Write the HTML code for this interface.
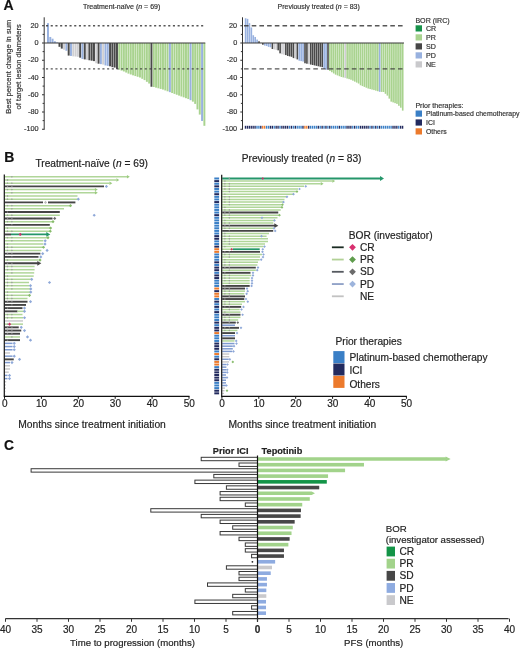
<!DOCTYPE html>
<html><head><meta charset="utf-8"><title>Figure</title>
<style>html,body{margin:0;padding:0;background:#fff;} svg{display:block;} text{font-family:"Liberation Sans", Arial, sans-serif;paint-order:stroke;stroke-width:0.18px;}</style>
</head><body>
<svg width="520" height="649" viewBox="0 0 520 649">
<rect width="520" height="649" fill="#fff"/>
<g id="A">
<text x="3.50" y="10.20" font-size="14" text-anchor="start" font-weight="bold" fill="#111" stroke="#111" >A</text>
<text x="82.90" y="9.30" font-size="7" text-anchor="start" font-weight="normal" fill="#333" stroke="#333" >Treatment-naïve (<tspan font-style="italic">n</tspan> = 69)</text>
<text x="277.50" y="9.30" font-size="7" text-anchor="start" font-weight="normal" fill="#333" stroke="#333" >Previously treated (<tspan font-style="italic">n</tspan> = 83)</text>
<text transform="translate(10.9,66.8) rotate(-90)" font-size="7.6" text-anchor="middle" fill="#333" stroke="#333">Best percent change in sum</text>
<text transform="translate(20.7,66.8) rotate(-90)" font-size="7.6" text-anchor="middle" fill="#333" stroke="#333">of target lesion diameters</text>
<rect x="47.00" y="23.16" width="1.95" height="19.84" fill="#98b1df" />
<rect x="49.30" y="36.96" width="1.95" height="6.04" fill="#98b1df" />
<rect x="51.60" y="38.69" width="1.95" height="4.31" fill="#98b1df" />
<rect x="53.90" y="41.27" width="1.95" height="1.73" fill="#98b1df" />
<rect x="56.20" y="42.48" width="1.95" height="0.52" fill="#98b1df" />
<rect x="58.50" y="43.00" width="1.95" height="3.80" fill="#4a4a4a" />
<rect x="60.80" y="43.00" width="1.95" height="5.61" fill="#4a4a4a" />
<rect x="63.10" y="43.00" width="1.95" height="6.73" fill="#cfcfd2" />
<rect x="65.40" y="43.00" width="1.95" height="7.76" fill="#98b1df" />
<rect x="67.70" y="43.00" width="1.95" height="12.59" fill="#4a4a4a" />
<rect x="70.00" y="43.00" width="1.95" height="12.94" fill="#98b1df" />
<rect x="72.30" y="43.00" width="1.95" height="13.37" fill="#cfcfd2" />
<rect x="74.60" y="43.00" width="1.95" height="13.54" fill="#cfcfd2" />
<rect x="76.90" y="43.00" width="1.95" height="13.80" fill="#cfcfd2" />
<rect x="79.20" y="43.00" width="1.95" height="14.66" fill="#4a4a4a" />
<rect x="81.50" y="43.00" width="1.95" height="15.96" fill="#98b1df" />
<rect x="83.80" y="43.00" width="1.95" height="16.39" fill="#4a4a4a" />
<rect x="86.10" y="43.00" width="1.95" height="16.82" fill="#cfcfd2" />
<rect x="88.40" y="43.00" width="1.95" height="17.25" fill="#4a4a4a" />
<rect x="90.70" y="43.00" width="1.95" height="17.68" fill="#4a4a4a" />
<rect x="93.00" y="43.00" width="1.95" height="18.11" fill="#4a4a4a" />
<rect x="95.30" y="43.00" width="1.95" height="20.27" fill="#cfcfd2" />
<rect x="97.60" y="43.00" width="1.95" height="20.70" fill="#4a4a4a" />
<rect x="99.90" y="43.00" width="1.95" height="21.13" fill="#98b1df" />
<rect x="102.20" y="43.00" width="1.95" height="21.56" fill="#cfcfd2" />
<rect x="104.50" y="43.00" width="1.95" height="22.42" fill="#98b1df" />
<rect x="106.80" y="43.00" width="1.95" height="22.86" fill="#98b1df" />
<rect x="109.10" y="43.00" width="1.95" height="23.29" fill="#4a4a4a" />
<rect x="111.40" y="43.00" width="1.95" height="24.15" fill="#4a4a4a" />
<rect x="113.70" y="43.00" width="1.95" height="24.58" fill="#4a4a4a" />
<rect x="116.00" y="43.00" width="1.95" height="25.88" fill="#4a4a4a" />
<rect x="118.30" y="43.00" width="1.95" height="26.74" fill="#a9d38f" />
<rect x="120.60" y="43.00" width="1.95" height="27.60" fill="#a9d38f" />
<rect x="122.90" y="43.00" width="1.95" height="28.46" fill="#a9d38f" />
<rect x="125.20" y="43.00" width="1.95" height="29.54" fill="#a9d38f" />
<rect x="127.50" y="43.00" width="1.95" height="30.62" fill="#a9d38f" />
<rect x="129.80" y="43.00" width="1.95" height="31.48" fill="#a9d38f" />
<rect x="132.10" y="43.00" width="1.95" height="32.34" fill="#a9d38f" />
<rect x="134.40" y="43.00" width="1.95" height="33.06" fill="#a9d38f" />
<rect x="136.70" y="43.00" width="1.95" height="33.78" fill="#a9d38f" />
<rect x="139.00" y="43.00" width="1.95" height="34.50" fill="#a9d38f" />
<rect x="141.30" y="43.00" width="1.95" height="35.79" fill="#a9d38f" />
<rect x="143.60" y="43.00" width="1.95" height="37.09" fill="#a9d38f" />
<rect x="145.90" y="43.00" width="1.95" height="38.81" fill="#a9d38f" />
<rect x="148.20" y="43.00" width="1.95" height="40.54" fill="#a9d38f" />
<rect x="150.50" y="43.00" width="1.95" height="43.73" fill="#4a4a4a" />
<rect x="152.80" y="43.00" width="1.95" height="43.99" fill="#a9d38f" />
<rect x="155.10" y="43.00" width="1.95" height="44.63" fill="#a9d38f" />
<rect x="157.40" y="43.00" width="1.95" height="45.28" fill="#a9d38f" />
<rect x="159.70" y="43.00" width="1.95" height="45.93" fill="#a9d38f" />
<rect x="162.00" y="43.00" width="1.95" height="46.58" fill="#a9d38f" />
<rect x="164.30" y="43.00" width="1.95" height="47.44" fill="#a9d38f" />
<rect x="166.60" y="43.00" width="1.95" height="48.30" fill="#a9d38f" />
<rect x="168.90" y="43.00" width="1.95" height="49.16" fill="#98b1df" />
<rect x="171.20" y="43.00" width="1.95" height="50.03" fill="#a9d38f" />
<rect x="173.50" y="43.00" width="1.95" height="50.89" fill="#a9d38f" />
<rect x="175.80" y="43.00" width="1.95" height="51.75" fill="#a9d38f" />
<rect x="178.10" y="43.00" width="1.95" height="52.61" fill="#a9d38f" />
<rect x="180.40" y="43.00" width="1.95" height="53.47" fill="#a9d38f" />
<rect x="182.70" y="43.00" width="1.95" height="54.34" fill="#a9d38f" />
<rect x="185.00" y="43.00" width="1.95" height="55.20" fill="#a9d38f" />
<rect x="187.30" y="43.00" width="1.95" height="56.06" fill="#a9d38f" />
<rect x="189.60" y="43.00" width="1.95" height="57.18" fill="#98b1df" />
<rect x="191.90" y="43.00" width="1.95" height="58.65" fill="#a9d38f" />
<rect x="194.20" y="43.00" width="1.95" height="60.89" fill="#a9d38f" />
<rect x="196.50" y="43.00" width="1.95" height="66.41" fill="#a9d38f" />
<rect x="198.80" y="43.00" width="1.95" height="71.59" fill="#a9d38f" />
<rect x="201.10" y="43.00" width="1.95" height="77.97" fill="#98b1df" />
<rect x="203.40" y="43.00" width="1.95" height="82.80" fill="#a9d38f" />
<rect x="244.80" y="18.25" width="1.62" height="24.75" fill="#98b1df" />
<rect x="246.72" y="18.85" width="1.62" height="24.15" fill="#98b1df" />
<rect x="248.63" y="23.16" width="1.62" height="19.84" fill="#98b1df" />
<rect x="250.55" y="27.48" width="1.62" height="15.52" fill="#98b1df" />
<rect x="252.46" y="35.24" width="1.62" height="7.76" fill="#98b1df" />
<rect x="254.38" y="36.96" width="1.62" height="6.04" fill="#98b1df" />
<rect x="256.30" y="39.55" width="1.62" height="3.45" fill="#98b1df" />
<rect x="258.21" y="41.27" width="1.62" height="1.73" fill="#4a4a4a" />
<rect x="260.13" y="42.57" width="1.62" height="0.43" fill="#cfcfd2" />
<rect x="262.04" y="43.00" width="1.62" height="1.73" fill="#4a4a4a" />
<rect x="263.96" y="43.00" width="1.62" height="2.59" fill="#98b1df" />
<rect x="265.88" y="43.00" width="1.62" height="3.02" fill="#98b1df" />
<rect x="267.79" y="43.00" width="1.62" height="3.88" fill="#98b1df" />
<rect x="269.71" y="43.00" width="1.62" height="4.31" fill="#98b1df" />
<rect x="271.62" y="43.00" width="1.62" height="6.04" fill="#4a4a4a" />
<rect x="273.54" y="43.00" width="1.62" height="6.47" fill="#cfcfd2" />
<rect x="275.46" y="43.00" width="1.62" height="6.90" fill="#cfcfd2" />
<rect x="277.37" y="43.00" width="1.62" height="7.33" fill="#4a4a4a" />
<rect x="279.29" y="43.00" width="1.62" height="10.35" fill="#4a4a4a" />
<rect x="281.20" y="43.00" width="1.62" height="11.21" fill="#cfcfd2" />
<rect x="283.12" y="43.00" width="1.62" height="11.64" fill="#cfcfd2" />
<rect x="285.04" y="43.00" width="1.62" height="12.08" fill="#4a4a4a" />
<rect x="286.95" y="43.00" width="1.62" height="12.94" fill="#4a4a4a" />
<rect x="288.87" y="43.00" width="1.62" height="13.37" fill="#4a4a4a" />
<rect x="290.78" y="43.00" width="1.62" height="13.80" fill="#4a4a4a" />
<rect x="292.70" y="43.00" width="1.62" height="15.09" fill="#4a4a4a" />
<rect x="294.62" y="43.00" width="1.62" height="15.52" fill="#cfcfd2" />
<rect x="296.53" y="43.00" width="1.62" height="16.39" fill="#4a4a4a" />
<rect x="298.45" y="43.00" width="1.62" height="17.68" fill="#98b1df" />
<rect x="300.36" y="43.00" width="1.62" height="18.11" fill="#98b1df" />
<rect x="302.28" y="43.00" width="1.62" height="18.54" fill="#98b1df" />
<rect x="304.20" y="43.00" width="1.62" height="20.27" fill="#4a4a4a" />
<rect x="306.11" y="43.00" width="1.62" height="20.70" fill="#4a4a4a" />
<rect x="308.03" y="43.00" width="1.62" height="21.13" fill="#cfcfd2" />
<rect x="309.94" y="43.00" width="1.62" height="21.56" fill="#4a4a4a" />
<rect x="311.86" y="43.00" width="1.62" height="21.99" fill="#4a4a4a" />
<rect x="313.78" y="43.00" width="1.62" height="22.42" fill="#4a4a4a" />
<rect x="315.69" y="43.00" width="1.62" height="22.86" fill="#4a4a4a" />
<rect x="317.61" y="43.00" width="1.62" height="23.29" fill="#4a4a4a" />
<rect x="319.52" y="43.00" width="1.62" height="23.72" fill="#4a4a4a" />
<rect x="321.44" y="43.00" width="1.62" height="24.15" fill="#4a4a4a" />
<rect x="323.36" y="43.00" width="1.62" height="25.88" fill="#98b1df" />
<rect x="325.27" y="43.00" width="1.62" height="26.74" fill="#98b1df" />
<rect x="327.19" y="43.00" width="1.62" height="26.74" fill="#4a4a4a" />
<rect x="329.10" y="43.00" width="1.62" height="28.03" fill="#a9d38f" />
<rect x="331.02" y="43.00" width="1.62" height="29.24" fill="#a9d38f" />
<rect x="332.94" y="43.00" width="1.62" height="30.45" fill="#a9d38f" />
<rect x="334.85" y="43.00" width="1.62" height="31.65" fill="#a9d38f" />
<rect x="336.77" y="43.00" width="1.62" height="32.43" fill="#a9d38f" />
<rect x="338.68" y="43.00" width="1.62" height="33.21" fill="#a9d38f" />
<rect x="340.60" y="43.00" width="1.62" height="33.98" fill="#a9d38f" />
<rect x="342.52" y="43.00" width="1.62" height="34.46" fill="#a9d38f" />
<rect x="344.43" y="43.00" width="1.62" height="34.93" fill="#cfcfd2" />
<rect x="346.35" y="43.00" width="1.62" height="35.53" fill="#a9d38f" />
<rect x="348.26" y="43.00" width="1.62" height="36.14" fill="#a9d38f" />
<rect x="350.18" y="43.00" width="1.62" height="36.74" fill="#a9d38f" />
<rect x="352.10" y="43.00" width="1.62" height="37.69" fill="#a9d38f" />
<rect x="354.01" y="43.00" width="1.62" height="38.64" fill="#a9d38f" />
<rect x="355.93" y="43.00" width="1.62" height="39.59" fill="#a9d38f" />
<rect x="357.84" y="43.00" width="1.62" height="40.54" fill="#a9d38f" />
<rect x="359.76" y="43.00" width="1.62" height="42.26" fill="#a9d38f" />
<rect x="361.68" y="43.00" width="1.62" height="43.08" fill="#a9d38f" />
<rect x="363.59" y="43.00" width="1.62" height="43.90" fill="#a9d38f" />
<rect x="365.51" y="43.00" width="1.62" height="44.72" fill="#a9d38f" />
<rect x="367.42" y="43.00" width="1.62" height="45.54" fill="#a9d38f" />
<rect x="369.34" y="43.00" width="1.62" height="46.06" fill="#a9d38f" />
<rect x="371.26" y="43.00" width="1.62" height="46.58" fill="#a9d38f" />
<rect x="373.17" y="43.00" width="1.62" height="47.09" fill="#a9d38f" />
<rect x="375.09" y="43.00" width="1.62" height="47.67" fill="#a9d38f" />
<rect x="377.00" y="43.00" width="1.62" height="48.24" fill="#a9d38f" />
<rect x="378.92" y="43.00" width="1.62" height="48.82" fill="#98b1df" />
<rect x="380.84" y="43.00" width="1.62" height="48.90" fill="#a9d38f" />
<rect x="382.75" y="43.00" width="1.62" height="48.99" fill="#a9d38f" />
<rect x="384.67" y="43.00" width="1.62" height="50.80" fill="#a9d38f" />
<rect x="386.58" y="43.00" width="1.62" height="52.61" fill="#a9d38f" />
<rect x="388.50" y="43.00" width="1.62" height="55.63" fill="#a9d38f" />
<rect x="390.42" y="43.00" width="1.62" height="58.65" fill="#a9d38f" />
<rect x="392.33" y="43.00" width="1.62" height="59.40" fill="#a9d38f" />
<rect x="394.25" y="43.00" width="1.62" height="60.15" fill="#a9d38f" />
<rect x="396.16" y="43.00" width="1.62" height="60.89" fill="#a9d38f" />
<rect x="398.08" y="43.00" width="1.62" height="62.79" fill="#a9d38f" />
<rect x="400.00" y="43.00" width="1.62" height="64.69" fill="#a9d38f" />
<rect x="401.91" y="43.00" width="1.62" height="67.62" fill="#a9d38f" />
<line x1="44.20" y1="17.30" x2="44.20" y2="129.75" stroke="#333" stroke-width="1" />
<line x1="42.00" y1="129.25" x2="44.20" y2="129.25" stroke="#333" stroke-width="1" />
<text x="38.60" y="131.45" font-size="7.3" text-anchor="end" font-weight="normal" fill="#333" stroke="#333" >-100</text>
<line x1="42.60" y1="120.62" x2="44.20" y2="120.62" stroke="#333" stroke-width="1" />
<line x1="42.00" y1="112.00" x2="44.20" y2="112.00" stroke="#333" stroke-width="1" />
<text x="38.60" y="114.20" font-size="7.3" text-anchor="end" font-weight="normal" fill="#333" stroke="#333" >-80</text>
<line x1="42.60" y1="103.38" x2="44.20" y2="103.38" stroke="#333" stroke-width="1" />
<line x1="42.00" y1="94.75" x2="44.20" y2="94.75" stroke="#333" stroke-width="1" />
<text x="38.60" y="96.95" font-size="7.3" text-anchor="end" font-weight="normal" fill="#333" stroke="#333" >-60</text>
<line x1="42.60" y1="86.12" x2="44.20" y2="86.12" stroke="#333" stroke-width="1" />
<line x1="42.00" y1="77.50" x2="44.20" y2="77.50" stroke="#333" stroke-width="1" />
<text x="38.60" y="79.70" font-size="7.3" text-anchor="end" font-weight="normal" fill="#333" stroke="#333" >-40</text>
<line x1="42.60" y1="68.88" x2="44.20" y2="68.88" stroke="#333" stroke-width="1" />
<line x1="42.00" y1="60.25" x2="44.20" y2="60.25" stroke="#333" stroke-width="1" />
<text x="38.60" y="62.45" font-size="7.3" text-anchor="end" font-weight="normal" fill="#333" stroke="#333" >-20</text>
<line x1="42.60" y1="51.62" x2="44.20" y2="51.62" stroke="#333" stroke-width="1" />
<line x1="42.00" y1="43.00" x2="44.20" y2="43.00" stroke="#333" stroke-width="1" />
<text x="38.60" y="45.20" font-size="7.3" text-anchor="end" font-weight="normal" fill="#333" stroke="#333" >0</text>
<line x1="42.60" y1="34.38" x2="44.20" y2="34.38" stroke="#333" stroke-width="1" />
<line x1="42.00" y1="25.75" x2="44.20" y2="25.75" stroke="#333" stroke-width="1" />
<text x="38.60" y="27.95" font-size="7.3" text-anchor="end" font-weight="normal" fill="#333" stroke="#333" >20</text>
<line x1="242.50" y1="17.30" x2="242.50" y2="129.75" stroke="#333" stroke-width="1" />
<line x1="240.30" y1="129.25" x2="242.50" y2="129.25" stroke="#333" stroke-width="1" />
<text x="237.20" y="131.45" font-size="7.3" text-anchor="end" font-weight="normal" fill="#333" stroke="#333" >-100</text>
<line x1="240.90" y1="120.62" x2="242.50" y2="120.62" stroke="#333" stroke-width="1" />
<line x1="240.30" y1="112.00" x2="242.50" y2="112.00" stroke="#333" stroke-width="1" />
<text x="237.20" y="114.20" font-size="7.3" text-anchor="end" font-weight="normal" fill="#333" stroke="#333" >-80</text>
<line x1="240.90" y1="103.38" x2="242.50" y2="103.38" stroke="#333" stroke-width="1" />
<line x1="240.30" y1="94.75" x2="242.50" y2="94.75" stroke="#333" stroke-width="1" />
<text x="237.20" y="96.95" font-size="7.3" text-anchor="end" font-weight="normal" fill="#333" stroke="#333" >-60</text>
<line x1="240.90" y1="86.12" x2="242.50" y2="86.12" stroke="#333" stroke-width="1" />
<line x1="240.30" y1="77.50" x2="242.50" y2="77.50" stroke="#333" stroke-width="1" />
<text x="237.20" y="79.70" font-size="7.3" text-anchor="end" font-weight="normal" fill="#333" stroke="#333" >-40</text>
<line x1="240.90" y1="68.88" x2="242.50" y2="68.88" stroke="#333" stroke-width="1" />
<line x1="240.30" y1="60.25" x2="242.50" y2="60.25" stroke="#333" stroke-width="1" />
<text x="237.20" y="62.45" font-size="7.3" text-anchor="end" font-weight="normal" fill="#333" stroke="#333" >-20</text>
<line x1="240.90" y1="51.62" x2="242.50" y2="51.62" stroke="#333" stroke-width="1" />
<line x1="240.30" y1="43.00" x2="242.50" y2="43.00" stroke="#333" stroke-width="1" />
<text x="237.20" y="45.20" font-size="7.3" text-anchor="end" font-weight="normal" fill="#333" stroke="#333" >0</text>
<line x1="240.90" y1="34.38" x2="242.50" y2="34.38" stroke="#333" stroke-width="1" />
<line x1="240.30" y1="25.75" x2="242.50" y2="25.75" stroke="#333" stroke-width="1" />
<text x="237.20" y="27.95" font-size="7.3" text-anchor="end" font-weight="normal" fill="#333" stroke="#333" >20</text>
<line x1="44.20" y1="43.00" x2="205.30" y2="43.00" stroke="#3a3a3a" stroke-width="1.2" />
<line x1="242.50" y1="43.00" x2="404.00" y2="43.00" stroke="#3a3a3a" stroke-width="1.2" />
<line x1="46.00" y1="25.75" x2="205.50" y2="25.75" stroke="#3a3a3a" stroke-width="1.35" stroke-dasharray="2.1 2.6" stroke-opacity="0.85"/>
<line x1="46.00" y1="68.88" x2="205.50" y2="68.88" stroke="#3a3a3a" stroke-width="1.35" stroke-dasharray="2.1 2.6" stroke-opacity="0.85"/>
<line x1="244.00" y1="25.75" x2="404.00" y2="25.75" stroke="#3a3a3a" stroke-width="1.35" stroke-dasharray="4.6 3.1" stroke-opacity="0.85"/>
<line x1="244.00" y1="68.88" x2="404.00" y2="68.88" stroke="#3a3a3a" stroke-width="1.35" stroke-dasharray="4.6 3.1" stroke-opacity="0.85"/>
<rect x="244.80" y="125.80" width="1.37" height="2.90" fill="#222a5e" />
<rect x="246.72" y="125.80" width="1.37" height="2.90" fill="#222a5e" />
<rect x="248.63" y="125.80" width="1.37" height="2.90" fill="#222a5e" />
<rect x="250.55" y="125.80" width="1.37" height="2.90" fill="#222a5e" />
<rect x="252.46" y="125.80" width="1.37" height="2.90" fill="#222a5e" />
<rect x="254.38" y="125.80" width="1.37" height="2.90" fill="#222a5e" />
<rect x="256.30" y="125.80" width="1.37" height="2.90" fill="#3a7fc6" />
<rect x="258.21" y="125.80" width="1.37" height="2.90" fill="#3a7fc6" />
<rect x="260.13" y="125.80" width="1.37" height="2.90" fill="#222a5e" />
<rect x="262.04" y="125.80" width="1.37" height="2.90" fill="#ec7a2c" />
<rect x="263.96" y="125.80" width="1.37" height="2.90" fill="#ec7a2c" />
<rect x="265.88" y="125.80" width="1.37" height="2.90" fill="#3a7fc6" />
<rect x="267.79" y="125.80" width="1.37" height="2.90" fill="#3a7fc6" />
<rect x="269.71" y="125.80" width="1.37" height="2.90" fill="#222a5e" />
<rect x="271.62" y="125.80" width="1.37" height="2.90" fill="#222a5e" />
<rect x="273.54" y="125.80" width="1.37" height="2.90" fill="#3a7fc6" />
<rect x="275.46" y="125.80" width="1.37" height="2.90" fill="#222a5e" />
<rect x="277.37" y="125.80" width="1.37" height="2.90" fill="#222a5e" />
<rect x="279.29" y="125.80" width="1.37" height="2.90" fill="#3a7fc6" />
<rect x="281.20" y="125.80" width="1.37" height="2.90" fill="#222a5e" />
<rect x="283.12" y="125.80" width="1.37" height="2.90" fill="#222a5e" />
<rect x="285.04" y="125.80" width="1.37" height="2.90" fill="#222a5e" />
<rect x="286.95" y="125.80" width="1.37" height="2.90" fill="#222a5e" />
<rect x="288.87" y="125.80" width="1.37" height="2.90" fill="#3a7fc6" />
<rect x="290.78" y="125.80" width="1.37" height="2.90" fill="#222a5e" />
<rect x="292.70" y="125.80" width="1.37" height="2.90" fill="#3a7fc6" />
<rect x="294.62" y="125.80" width="1.37" height="2.90" fill="#222a5e" />
<rect x="296.53" y="125.80" width="1.37" height="2.90" fill="#3a7fc6" />
<rect x="298.45" y="125.80" width="1.37" height="2.90" fill="#3a7fc6" />
<rect x="300.36" y="125.80" width="1.37" height="2.90" fill="#3a7fc6" />
<rect x="302.28" y="125.80" width="1.37" height="2.90" fill="#222a5e" />
<rect x="304.20" y="125.80" width="1.37" height="2.90" fill="#ec7a2c" />
<rect x="306.11" y="125.80" width="1.37" height="2.90" fill="#ec7a2c" />
<rect x="308.03" y="125.80" width="1.37" height="2.90" fill="#222a5e" />
<rect x="309.94" y="125.80" width="1.37" height="2.90" fill="#3a7fc6" />
<rect x="311.86" y="125.80" width="1.37" height="2.90" fill="#3a7fc6" />
<rect x="313.78" y="125.80" width="1.37" height="2.90" fill="#3a7fc6" />
<rect x="315.69" y="125.80" width="1.37" height="2.90" fill="#3a7fc6" />
<rect x="317.61" y="125.80" width="1.37" height="2.90" fill="#222a5e" />
<rect x="319.52" y="125.80" width="1.37" height="2.90" fill="#3a7fc6" />
<rect x="321.44" y="125.80" width="1.37" height="2.90" fill="#222a5e" />
<rect x="323.36" y="125.80" width="1.37" height="2.90" fill="#3a7fc6" />
<rect x="325.27" y="125.80" width="1.37" height="2.90" fill="#222a5e" />
<rect x="327.19" y="125.80" width="1.37" height="2.90" fill="#3a7fc6" />
<rect x="329.10" y="125.80" width="1.37" height="2.90" fill="#222a5e" />
<rect x="331.02" y="125.80" width="1.37" height="2.90" fill="#3a7fc6" />
<rect x="332.94" y="125.80" width="1.37" height="2.90" fill="#3a7fc6" />
<rect x="334.85" y="125.80" width="1.37" height="2.90" fill="#3a7fc6" />
<rect x="336.77" y="125.80" width="1.37" height="2.90" fill="#3a7fc6" />
<rect x="338.68" y="125.80" width="1.37" height="2.90" fill="#222a5e" />
<rect x="340.60" y="125.80" width="1.37" height="2.90" fill="#3a7fc6" />
<rect x="342.52" y="125.80" width="1.37" height="2.90" fill="#3a7fc6" />
<rect x="344.43" y="125.80" width="1.37" height="2.90" fill="#3a7fc6" />
<rect x="346.35" y="125.80" width="1.37" height="2.90" fill="#222a5e" />
<rect x="348.26" y="125.80" width="1.37" height="2.90" fill="#222a5e" />
<rect x="350.18" y="125.80" width="1.37" height="2.90" fill="#222a5e" />
<rect x="352.10" y="125.80" width="1.37" height="2.90" fill="#3a7fc6" />
<rect x="354.01" y="125.80" width="1.37" height="2.90" fill="#222a5e" />
<rect x="355.93" y="125.80" width="1.37" height="2.90" fill="#3a7fc6" />
<rect x="357.84" y="125.80" width="1.37" height="2.90" fill="#3a7fc6" />
<rect x="359.76" y="125.80" width="1.37" height="2.90" fill="#222a5e" />
<rect x="361.68" y="125.80" width="1.37" height="2.90" fill="#222a5e" />
<rect x="363.59" y="125.80" width="1.37" height="2.90" fill="#222a5e" />
<rect x="365.51" y="125.80" width="1.37" height="2.90" fill="#222a5e" />
<rect x="367.42" y="125.80" width="1.37" height="2.90" fill="#222a5e" />
<rect x="369.34" y="125.80" width="1.37" height="2.90" fill="#3a7fc6" />
<rect x="371.26" y="125.80" width="1.37" height="2.90" fill="#222a5e" />
<rect x="373.17" y="125.80" width="1.37" height="2.90" fill="#3a7fc6" />
<rect x="375.09" y="125.80" width="1.37" height="2.90" fill="#222a5e" />
<rect x="377.00" y="125.80" width="1.37" height="2.90" fill="#3a7fc6" />
<rect x="378.92" y="125.80" width="1.37" height="2.90" fill="#222a5e" />
<rect x="380.84" y="125.80" width="1.37" height="2.90" fill="#3a7fc6" />
<rect x="382.75" y="125.80" width="1.37" height="2.90" fill="#3a7fc6" />
<rect x="384.67" y="125.80" width="1.37" height="2.90" fill="#3a7fc6" />
<rect x="386.58" y="125.80" width="1.37" height="2.90" fill="#3a7fc6" />
<rect x="388.50" y="125.80" width="1.37" height="2.90" fill="#3a7fc6" />
<rect x="390.42" y="125.80" width="1.37" height="2.90" fill="#3a7fc6" />
<rect x="392.33" y="125.80" width="1.37" height="2.90" fill="#222a5e" />
<rect x="394.25" y="125.80" width="1.37" height="2.90" fill="#222a5e" />
<rect x="396.16" y="125.80" width="1.37" height="2.90" fill="#222a5e" />
<rect x="398.08" y="125.80" width="1.37" height="2.90" fill="#3a7fc6" />
<rect x="400.00" y="125.80" width="1.37" height="2.90" fill="#222a5e" />
<rect x="401.91" y="125.80" width="1.37" height="2.90" fill="#222a5e" />
<text x="415.40" y="22.50" font-size="7.1" text-anchor="start" font-weight="normal" fill="#333" stroke="#333" >BOR (IRC)</text>
<rect x="415.60" y="25.30" width="6.40" height="6.20" fill="#17924a" />
<text x="426.00" y="30.90" font-size="7.1" text-anchor="start" font-weight="normal" fill="#333" stroke="#333" >CR</text>
<rect x="415.60" y="34.30" width="6.40" height="6.20" fill="#a9d38f" />
<text x="426.00" y="39.90" font-size="7.1" text-anchor="start" font-weight="normal" fill="#333" stroke="#333" >PR</text>
<rect x="415.60" y="43.30" width="6.40" height="6.20" fill="#474747" />
<text x="426.00" y="48.90" font-size="7.1" text-anchor="start" font-weight="normal" fill="#333" stroke="#333" >SD</text>
<rect x="415.60" y="52.30" width="6.40" height="6.20" fill="#98b1df" />
<text x="426.00" y="57.90" font-size="7.1" text-anchor="start" font-weight="normal" fill="#333" stroke="#333" >PD</text>
<rect x="415.60" y="61.30" width="6.40" height="6.20" fill="#c9c9cc" />
<text x="426.00" y="66.90" font-size="7.1" text-anchor="start" font-weight="normal" fill="#333" stroke="#333" >NE</text>
<text x="415.40" y="108.00" font-size="7.1" text-anchor="start" font-weight="normal" fill="#333" stroke="#333" >Prior therapies:</text>
<rect x="415.60" y="110.50" width="6.40" height="6.20" fill="#3a7fc6" />
<text x="426.00" y="116.10" font-size="6.9" text-anchor="start" font-weight="normal" fill="#333" stroke="#333" >Platinum-based chemotherapy</text>
<rect x="415.60" y="119.40" width="6.40" height="6.20" fill="#222a5e" />
<text x="426.00" y="125.00" font-size="6.9" text-anchor="start" font-weight="normal" fill="#333" stroke="#333" >ICI</text>
<rect x="415.60" y="128.30" width="6.40" height="6.20" fill="#ec7a2c" />
<text x="426.00" y="133.90" font-size="6.9" text-anchor="start" font-weight="normal" fill="#333" stroke="#333" >Others</text>
</g>
<g id="B">
<text x="4.20" y="162.20" font-size="14" text-anchor="start" font-weight="bold" fill="#111" stroke="#111" >B</text>
<text x="35.40" y="166.90" font-size="10.2" text-anchor="start" font-weight="normal" fill="#222" stroke="#222" >Treatment-naïve (<tspan font-style="italic">n</tspan> = 69)</text>
<text x="241.70" y="162.40" font-size="10.2" text-anchor="start" font-weight="normal" fill="#222" stroke="#222" >Previously treated (<tspan font-style="italic">n</tspan> = 83)</text>
<line x1="4.80" y1="176.80" x2="127.00" y2="176.80" stroke="#b0d699" stroke-width="1.5" />
<path d="M129.80 176.80L126.92 175.09L126.92 178.51Z" fill="#9ccb80"/>
<path d="M11.90 175.90L12.80 176.80L11.90 177.70L11.00 176.80Z" fill="#9a9a9a"/>
<line x1="4.80" y1="180.00" x2="116.50" y2="180.00" stroke="#b0d699" stroke-width="1.5" />
<path d="M119.30 180.00L116.42 178.29L116.42 181.71Z" fill="#9ccb80"/>
<path d="M7.50 179.10L8.40 180.00L7.50 180.90L6.60 180.00Z" fill="#9a9a9a"/>
<line x1="4.80" y1="183.21" x2="109.50" y2="183.21" stroke="#b0d699" stroke-width="1.5" />
<path d="M112.30 183.21L109.42 181.50L109.42 184.92Z" fill="#9ccb80"/>
<path d="M7.50 182.31L8.40 183.21L7.50 184.11L6.60 183.21Z" fill="#9a9a9a"/>
<path d="M11.90 182.31L12.80 183.21L11.90 184.11L11.00 183.21Z" fill="#9a9a9a"/>
<line x1="4.80" y1="186.41" x2="104.00" y2="186.41" stroke="#454545" stroke-width="1.9" />
<path d="M7.50 185.51L8.40 186.41L7.50 187.31L6.60 186.41Z" fill="#888"/>
<path d="M11.90 185.51L12.80 186.41L11.90 187.31L11.00 186.41Z" fill="#888"/>
<path d="M106.40 184.81L108.00 186.41L106.40 188.01L104.80 186.41Z" fill="#8ea8d8"/>
<line x1="4.80" y1="189.61" x2="95.00" y2="189.61" stroke="#b0d699" stroke-width="1.5" />
<path d="M97.80 189.61L94.92 187.90L94.92 191.32Z" fill="#9ccb80"/>
<path d="M7.50 188.71L8.40 189.61L7.50 190.51L6.60 189.61Z" fill="#9a9a9a"/>
<path d="M11.90 188.71L12.80 189.61L11.90 190.51L11.00 189.61Z" fill="#9a9a9a"/>
<line x1="4.80" y1="192.81" x2="95.00" y2="192.81" stroke="#b0d699" stroke-width="1.5" />
<path d="M97.80 192.81L94.92 191.10L94.92 194.53Z" fill="#9ccb80"/>
<path d="M11.90 191.91L12.80 192.81L11.90 193.72L11.00 192.81Z" fill="#9a9a9a"/>
<line x1="4.80" y1="196.02" x2="77.50" y2="196.02" stroke="#b0d699" stroke-width="1.5" />
<path d="M7.50 195.12L8.40 196.02L7.50 196.92L6.60 196.02Z" fill="#9a9a9a"/>
<line x1="4.80" y1="199.22" x2="77.50" y2="199.22" stroke="#b0d699" stroke-width="1.5" />
<path d="M7.50 198.32L8.40 199.22L7.50 200.12L6.60 199.22Z" fill="#9a9a9a"/>
<path d="M11.90 198.32L12.80 199.22L11.90 200.12L11.00 199.22Z" fill="#9a9a9a"/>
<path d="M78.30 197.62L79.90 199.22L78.30 200.82L76.70 199.22Z" fill="#8ea8d8"/>
<line x1="5.00" y1="202.42" x2="43.00" y2="202.42" stroke="#454545" stroke-width="1.9" />
<line x1="48.00" y1="202.42" x2="75.40" y2="202.42" stroke="#454545" stroke-width="1.9" />
<path d="M45.50 200.82L47.10 202.42L45.50 204.02L43.90 202.42Z" fill="#bdbdbd"/>
<line x1="4.80" y1="205.63" x2="70.00" y2="205.63" stroke="#b0d699" stroke-width="1.5" />
<path d="M7.50 204.73L8.40 205.63L7.50 206.53L6.60 205.63Z" fill="#9a9a9a"/>
<path d="M11.90 204.73L12.80 205.63L11.90 206.53L11.00 205.63Z" fill="#9a9a9a"/>
<path d="M70.50 204.03L72.10 205.63L70.50 207.23L68.90 205.63Z" fill="#86bb6a"/>
<line x1="4.80" y1="208.83" x2="64.00" y2="208.83" stroke="#b0d699" stroke-width="1.5" />
<path d="M11.90 207.93L12.80 208.83L11.90 209.73L11.00 208.83Z" fill="#9a9a9a"/>
<line x1="4.80" y1="212.03" x2="59.80" y2="212.03" stroke="#454545" stroke-width="1.9" />
<path d="M7.50 211.13L8.40 212.03L7.50 212.93L6.60 212.03Z" fill="#888"/>
<line x1="4.80" y1="215.24" x2="59.80" y2="215.24" stroke="#b0d699" stroke-width="1.5" />
<path d="M7.50 214.34L8.40 215.24L7.50 216.14L6.60 215.24Z" fill="#9a9a9a"/>
<path d="M11.90 214.34L12.80 215.24L11.90 216.14L11.00 215.24Z" fill="#9a9a9a"/>
<path d="M94.20 213.64L95.80 215.24L94.20 216.84L92.60 215.24Z" fill="#8ea8d8"/>
<line x1="4.80" y1="218.44" x2="52.50" y2="218.44" stroke="#454545" stroke-width="1.9" />
<path d="M7.50 217.54L8.40 218.44L7.50 219.34L6.60 218.44Z" fill="#888"/>
<path d="M11.90 217.54L12.80 218.44L11.90 219.34L11.00 218.44Z" fill="#888"/>
<path d="M54.70 216.84L56.30 218.44L54.70 220.04L53.10 218.44Z" fill="#6a6a6a"/>
<line x1="4.80" y1="221.64" x2="52.50" y2="221.64" stroke="#b0d699" stroke-width="1.5" />
<path d="M7.50 220.74L8.40 221.64L7.50 222.54L6.60 221.64Z" fill="#9a9a9a"/>
<path d="M11.90 220.74L12.80 221.64L11.90 222.54L11.00 221.64Z" fill="#9a9a9a"/>
<path d="M53.00 220.04L54.60 221.64L53.00 223.24L51.40 221.64Z" fill="#86bb6a"/>
<line x1="4.80" y1="224.84" x2="49.80" y2="224.84" stroke="#454545" stroke-width="1.9" />
<path d="M11.90 223.94L12.80 224.84L11.90 225.75L11.00 224.84Z" fill="#888"/>
<line x1="4.80" y1="228.05" x2="50.40" y2="228.05" stroke="#b0d699" stroke-width="1.5" />
<path d="M7.50 227.15L8.40 228.05L7.50 228.95L6.60 228.05Z" fill="#9a9a9a"/>
<path d="M50.60 226.45L52.20 228.05L50.60 229.65L49.00 228.05Z" fill="#86bb6a"/>
<line x1="4.80" y1="231.25" x2="50.00" y2="231.25" stroke="#b0d699" stroke-width="1.5" />
<path d="M7.50 230.35L8.40 231.25L7.50 232.15L6.60 231.25Z" fill="#9a9a9a"/>
<path d="M11.90 230.35L12.80 231.25L11.90 232.15L11.00 231.25Z" fill="#9a9a9a"/>
<path d="M50.30 229.65L51.90 231.25L50.30 232.85L48.70 231.25Z" fill="#86bb6a"/>
<line x1="5.00" y1="234.45" x2="11.00" y2="234.45" stroke="#454545" stroke-width="1.9" />
<line x1="11.00" y1="234.45" x2="47.50" y2="234.45" stroke="#25966a" stroke-width="1.8" />
<path d="M50.30 234.45L46.30 232.08L46.30 236.83Z" fill="#25966a"/>
<path d="M20.20 232.85L21.80 234.45L20.20 236.05L18.60 234.45Z" fill="#cc2d67"/>
<line x1="4.80" y1="237.66" x2="48.00" y2="237.66" stroke="#b0d699" stroke-width="1.5" />
<path d="M7.50 236.76L8.40 237.66L7.50 238.56L6.60 237.66Z" fill="#9a9a9a"/>
<path d="M11.90 236.76L12.80 237.66L11.90 238.56L11.00 237.66Z" fill="#9a9a9a"/>
<path d="M48.00 236.06L49.60 237.66L48.00 239.26L46.40 237.66Z" fill="#86bb6a"/>
<line x1="4.80" y1="240.86" x2="43.30" y2="240.86" stroke="#b0d699" stroke-width="1.5" />
<path d="M11.90 239.96L12.80 240.86L11.90 241.76L11.00 240.86Z" fill="#9a9a9a"/>
<path d="M45.20 239.26L46.80 240.86L45.20 242.46L43.60 240.86Z" fill="#8ea8d8"/>
<line x1="4.80" y1="244.06" x2="43.30" y2="244.06" stroke="#b0d699" stroke-width="1.5" />
<path d="M7.50 243.16L8.40 244.06L7.50 244.96L6.60 244.06Z" fill="#9a9a9a"/>
<path d="M45.00 242.46L46.60 244.06L45.00 245.66L43.40 244.06Z" fill="#8ea8d8"/>
<line x1="4.80" y1="247.27" x2="43.30" y2="247.27" stroke="#b0d699" stroke-width="1.5" />
<path d="M7.50 246.37L8.40 247.27L7.50 248.17L6.60 247.27Z" fill="#9a9a9a"/>
<path d="M11.90 246.37L12.80 247.27L11.90 248.17L11.00 247.27Z" fill="#9a9a9a"/>
<path d="M43.50 245.67L45.10 247.27L43.50 248.87L41.90 247.27Z" fill="#86bb6a"/>
<line x1="4.80" y1="250.47" x2="41.30" y2="250.47" stroke="#b0d699" stroke-width="1.5" />
<path d="M7.50 249.57L8.40 250.47L7.50 251.37L6.60 250.47Z" fill="#9a9a9a"/>
<path d="M11.90 249.57L12.80 250.47L11.90 251.37L11.00 250.47Z" fill="#9a9a9a"/>
<path d="M47.10 248.87L48.70 250.47L47.10 252.07L45.50 250.47Z" fill="#8ea8d8"/>
<line x1="4.80" y1="253.67" x2="40.40" y2="253.67" stroke="#454545" stroke-width="1.9" />
<path d="M7.50 252.77L8.40 253.67L7.50 254.57L6.60 253.67Z" fill="#888"/>
<path d="M11.90 252.77L12.80 253.67L11.90 254.57L11.00 253.67Z" fill="#888"/>
<path d="M42.70 252.07L44.30 253.67L42.70 255.27L41.10 253.67Z" fill="#8ea8d8"/>
<line x1="4.80" y1="256.88" x2="38.50" y2="256.88" stroke="#454545" stroke-width="1.9" />
<path d="M11.90 255.97L12.80 256.88L11.90 257.77L11.00 256.88Z" fill="#888"/>
<path d="M40.80 255.28L42.40 256.88L40.80 258.48L39.20 256.88Z" fill="#8ea8d8"/>
<line x1="4.80" y1="260.08" x2="38.50" y2="260.08" stroke="#b0d699" stroke-width="1.5" />
<path d="M7.50 259.18L8.40 260.08L7.50 260.98L6.60 260.08Z" fill="#9a9a9a"/>
<path d="M40.00 258.48L41.60 260.08L40.00 261.68L38.40 260.08Z" fill="#86bb6a"/>
<line x1="4.80" y1="263.28" x2="38.50" y2="263.28" stroke="#454545" stroke-width="1.9" />
<path d="M41.30 263.28L37.30 260.91L37.30 265.66Z" fill="#454545"/>
<path d="M7.50 262.38L8.40 263.28L7.50 264.18L6.60 263.28Z" fill="#888"/>
<path d="M11.90 262.38L12.80 263.28L11.90 264.18L11.00 263.28Z" fill="#888"/>
<line x1="4.80" y1="266.48" x2="34.60" y2="266.48" stroke="#b0d699" stroke-width="1.5" />
<path d="M7.50 265.58L8.40 266.48L7.50 267.38L6.60 266.48Z" fill="#9a9a9a"/>
<path d="M11.90 265.58L12.80 266.48L11.90 267.38L11.00 266.48Z" fill="#9a9a9a"/>
<line x1="4.80" y1="269.69" x2="34.60" y2="269.69" stroke="#b0d699" stroke-width="1.5" />
<path d="M7.50 268.79L8.40 269.69L7.50 270.59L6.60 269.69Z" fill="#9a9a9a"/>
<path d="M11.90 268.79L12.80 269.69L11.90 270.59L11.00 269.69Z" fill="#9a9a9a"/>
<line x1="4.80" y1="272.89" x2="34.20" y2="272.89" stroke="#b0d699" stroke-width="1.5" />
<path d="M11.90 271.99L12.80 272.89L11.90 273.79L11.00 272.89Z" fill="#9a9a9a"/>
<line x1="4.80" y1="276.09" x2="33.70" y2="276.09" stroke="#b0d699" stroke-width="1.5" />
<path d="M7.50 275.19L8.40 276.09L7.50 276.99L6.60 276.09Z" fill="#9a9a9a"/>
<line x1="4.80" y1="279.30" x2="30.80" y2="279.30" stroke="#b0d699" stroke-width="1.5" />
<path d="M7.50 278.40L8.40 279.30L7.50 280.20L6.60 279.30Z" fill="#9a9a9a"/>
<path d="M11.90 278.40L12.80 279.30L11.90 280.20L11.00 279.30Z" fill="#9a9a9a"/>
<path d="M31.70 277.70L33.30 279.30L31.70 280.90L30.10 279.30Z" fill="#8ea8d8"/>
<line x1="4.80" y1="282.50" x2="29.00" y2="282.50" stroke="#b0d699" stroke-width="1.5" />
<path d="M7.50 281.60L8.40 282.50L7.50 283.40L6.60 282.50Z" fill="#9a9a9a"/>
<path d="M11.90 281.60L12.80 282.50L11.90 283.40L11.00 282.50Z" fill="#9a9a9a"/>
<path d="M49.50 280.90L51.10 282.50L49.50 284.10L47.90 282.50Z" fill="#8ea8d8"/>
<line x1="4.80" y1="285.70" x2="29.50" y2="285.70" stroke="#b0d699" stroke-width="1.5" />
<path d="M7.50 284.80L8.40 285.70L7.50 286.60L6.60 285.70Z" fill="#9a9a9a"/>
<path d="M11.90 284.80L12.80 285.70L11.90 286.60L11.00 285.70Z" fill="#9a9a9a"/>
<path d="M30.50 284.10L32.10 285.70L30.50 287.30L28.90 285.70Z" fill="#8ea8d8"/>
<line x1="4.80" y1="288.90" x2="30.00" y2="288.90" stroke="#b0d699" stroke-width="1.5" />
<path d="M11.90 288.00L12.80 288.90L11.90 289.80L11.00 288.90Z" fill="#9a9a9a"/>
<path d="M30.80 287.30L32.40 288.90L30.80 290.50L29.20 288.90Z" fill="#8ea8d8"/>
<line x1="4.80" y1="292.11" x2="30.00" y2="292.11" stroke="#b0d699" stroke-width="1.5" />
<path d="M7.50 291.21L8.40 292.11L7.50 293.01L6.60 292.11Z" fill="#9a9a9a"/>
<path d="M30.80 290.51L32.40 292.11L30.80 293.71L29.20 292.11Z" fill="#8ea8d8"/>
<line x1="4.80" y1="295.31" x2="28.75" y2="295.31" stroke="#b0d699" stroke-width="1.5" />
<path d="M7.50 294.41L8.40 295.31L7.50 296.21L6.60 295.31Z" fill="#9a9a9a"/>
<path d="M11.90 294.41L12.80 295.31L11.90 296.21L11.00 295.31Z" fill="#9a9a9a"/>
<path d="M29.50 293.71L31.10 295.31L29.50 296.91L27.90 295.31Z" fill="#86bb6a"/>
<line x1="4.80" y1="298.51" x2="27.50" y2="298.51" stroke="#b0d699" stroke-width="1.5" />
<path d="M7.50 297.61L8.40 298.51L7.50 299.41L6.60 298.51Z" fill="#9a9a9a"/>
<path d="M11.90 297.61L12.80 298.51L11.90 299.41L11.00 298.51Z" fill="#9a9a9a"/>
<line x1="4.80" y1="301.72" x2="27.50" y2="301.72" stroke="#454545" stroke-width="1.9" />
<path d="M7.50 300.82L8.40 301.72L7.50 302.62L6.60 301.72Z" fill="#888"/>
<path d="M11.90 300.82L12.80 301.72L11.90 302.62L11.00 301.72Z" fill="#888"/>
<path d="M30.50 300.12L32.10 301.72L30.50 303.32L28.90 301.72Z" fill="#8ea8d8"/>
<line x1="4.80" y1="304.92" x2="26.00" y2="304.92" stroke="#454545" stroke-width="1.9" />
<path d="M11.90 304.02L12.80 304.92L11.90 305.82L11.00 304.92Z" fill="#888"/>
<line x1="4.80" y1="308.12" x2="22.50" y2="308.12" stroke="#454545" stroke-width="1.9" />
<path d="M7.50 307.22L8.40 308.12L7.50 309.02L6.60 308.12Z" fill="#888"/>
<path d="M24.50 306.52L26.10 308.12L24.50 309.72L22.90 308.12Z" fill="#8ea8d8"/>
<line x1="5.00" y1="311.33" x2="17.50" y2="311.33" stroke="#454545" stroke-width="1.9" />
<line x1="17.50" y1="311.33" x2="24.50" y2="311.33" stroke="#b0d699" stroke-width="1.5" />
<path d="M24.50 309.73L26.10 311.33L24.50 312.93L22.90 311.33Z" fill="#8ea8d8"/>
<line x1="4.80" y1="314.53" x2="22.50" y2="314.53" stroke="#b0d699" stroke-width="1.5" />
<path d="M7.50 313.63L8.40 314.53L7.50 315.43L6.60 314.53Z" fill="#9a9a9a"/>
<path d="M11.90 313.63L12.80 314.53L11.90 315.43L11.00 314.53Z" fill="#9a9a9a"/>
<line x1="4.80" y1="317.73" x2="23.00" y2="317.73" stroke="#b0d699" stroke-width="1.5" />
<path d="M7.50 316.83L8.40 317.73L7.50 318.63L6.60 317.73Z" fill="#9a9a9a"/>
<path d="M11.90 316.83L12.80 317.73L11.90 318.63L11.00 317.73Z" fill="#9a9a9a"/>
<path d="M24.50 316.13L26.10 317.73L24.50 319.33L22.90 317.73Z" fill="#8ea8d8"/>
<line x1="4.80" y1="320.94" x2="23.00" y2="320.94" stroke="#c6c6c8" stroke-width="1.4" />
<line x1="4.80" y1="324.14" x2="23.00" y2="324.14" stroke="#b0d699" stroke-width="1.5" />
<path d="M7.50 323.24L8.40 324.14L7.50 325.04L6.60 324.14Z" fill="#9a9a9a"/>
<path d="M9.60 322.54L11.20 324.14L9.60 325.74L8.00 324.14Z" fill="#cc2d67"/>
<line x1="4.80" y1="327.34" x2="18.75" y2="327.34" stroke="#454545" stroke-width="1.9" />
<path d="M7.50 326.44L8.40 327.34L7.50 328.24L6.60 327.34Z" fill="#888"/>
<path d="M11.90 326.44L12.80 327.34L11.90 328.24L11.00 327.34Z" fill="#888"/>
<path d="M21.25 325.74L22.85 327.34L21.25 328.94L19.65 327.34Z" fill="#8ea8d8"/>
<line x1="4.80" y1="330.54" x2="21.25" y2="330.54" stroke="#454545" stroke-width="1.9" />
<path d="M7.50 329.64L8.40 330.54L7.50 331.44L6.60 330.54Z" fill="#888"/>
<path d="M11.90 329.64L12.80 330.54L11.90 331.44L11.00 330.54Z" fill="#888"/>
<path d="M24.50 328.94L26.10 330.54L24.50 332.14L22.90 330.54Z" fill="#8ea8d8"/>
<line x1="4.80" y1="333.75" x2="20.00" y2="333.75" stroke="#454545" stroke-width="1.9" />
<path d="M7.50 332.85L8.40 333.75L7.50 334.65L6.60 333.75Z" fill="#888"/>
<path d="M11.90 332.85L12.80 333.75L11.90 334.65L11.00 333.75Z" fill="#888"/>
<line x1="4.80" y1="336.95" x2="20.00" y2="336.95" stroke="#b0d699" stroke-width="1.5" />
<path d="M11.90 336.05L12.80 336.95L11.90 337.85L11.00 336.95Z" fill="#9a9a9a"/>
<path d="M27.50 335.35L29.10 336.95L27.50 338.55L25.90 336.95Z" fill="#8ea8d8"/>
<line x1="4.80" y1="340.15" x2="20.00" y2="340.15" stroke="#454545" stroke-width="1.9" />
<path d="M7.50 339.25L8.40 340.15L7.50 341.05L6.60 340.15Z" fill="#888"/>
<path d="M30.50 338.55L32.10 340.15L30.50 341.75L28.90 340.15Z" fill="#8ea8d8"/>
<line x1="4.80" y1="343.36" x2="12.50" y2="343.36" stroke="#7f9bd0" stroke-width="1.5" />
<path d="M14.25 341.76L15.85 343.36L14.25 344.96L12.65 343.36Z" fill="#8ea8d8"/>
<line x1="4.80" y1="346.56" x2="12.50" y2="346.56" stroke="#7f9bd0" stroke-width="1.5" />
<path d="M14.25 344.96L15.85 346.56L14.25 348.16L12.65 346.56Z" fill="#8ea8d8"/>
<line x1="4.80" y1="349.76" x2="12.50" y2="349.76" stroke="#7f9bd0" stroke-width="1.5" />
<path d="M14.25 348.16L15.85 349.76L14.25 351.36L12.65 349.76Z" fill="#8ea8d8"/>
<line x1="4.80" y1="352.97" x2="10.00" y2="352.97" stroke="#c6c6c8" stroke-width="1.4" />
<line x1="4.80" y1="356.17" x2="12.50" y2="356.17" stroke="#7f9bd0" stroke-width="1.5" />
<path d="M14.25 354.57L15.85 356.17L14.25 357.77L12.65 356.17Z" fill="#8ea8d8"/>
<line x1="4.80" y1="359.37" x2="13.75" y2="359.37" stroke="#454545" stroke-width="1.9" />
<path d="M19.50 357.77L21.10 359.37L19.50 360.97L17.90 359.37Z" fill="#8ea8d8"/>
<line x1="4.80" y1="362.57" x2="10.00" y2="362.57" stroke="#7f9bd0" stroke-width="1.5" />
<path d="M12.00 360.97L13.60 362.57L12.00 364.17L10.40 362.57Z" fill="#8ea8d8"/>
<line x1="4.80" y1="365.78" x2="10.00" y2="365.78" stroke="#c6c6c8" stroke-width="1.4" />
<line x1="4.80" y1="368.98" x2="10.00" y2="368.98" stroke="#c6c6c8" stroke-width="1.4" />
<line x1="4.80" y1="372.18" x2="8.75" y2="372.18" stroke="#c6c6c8" stroke-width="1.4" />
<line x1="4.80" y1="375.39" x2="7.50" y2="375.39" stroke="#7f9bd0" stroke-width="1.5" />
<path d="M9.50 373.79L11.10 375.39L9.50 376.99L7.90 375.39Z" fill="#8ea8d8"/>
<line x1="4.80" y1="378.59" x2="7.50" y2="378.59" stroke="#7f9bd0" stroke-width="1.5" />
<path d="M9.50 376.99L11.10 378.59L9.50 380.19L7.90 378.59Z" fill="#8ea8d8"/>
<line x1="4.80" y1="381.79" x2="6.25" y2="381.79" stroke="#c6c6c8" stroke-width="1.4" />
<line x1="4.80" y1="385.00" x2="5.80" y2="385.00" stroke="#c6c6c8" stroke-width="1.4" />
<line x1="4.80" y1="388.20" x2="5.80" y2="388.20" stroke="#c6c6c8" stroke-width="1.4" />
<line x1="4.80" y1="391.40" x2="5.40" y2="391.40" stroke="#c6c6c8" stroke-width="1.4" />
<line x1="4.80" y1="394.60" x2="5.20" y2="394.60" stroke="#c6c6c8" stroke-width="1.4" />
<rect x="214.30" y="177.50" width="4.80" height="2.00" fill="#3a7fc6" />
<rect x="214.30" y="180.12" width="4.80" height="2.00" fill="#222a5e" />
<rect x="214.30" y="182.74" width="4.80" height="2.00" fill="#3a7fc6" />
<rect x="214.30" y="185.36" width="4.80" height="2.00" fill="#222a5e" />
<rect x="214.30" y="187.98" width="4.80" height="2.00" fill="#3a7fc6" />
<rect x="214.30" y="190.60" width="4.80" height="2.00" fill="#3a7fc6" />
<rect x="214.30" y="193.22" width="4.80" height="2.00" fill="#222a5e" />
<rect x="214.30" y="195.84" width="4.80" height="2.00" fill="#3a7fc6" />
<rect x="214.30" y="198.46" width="4.80" height="2.00" fill="#3a7fc6" />
<rect x="214.30" y="201.08" width="4.80" height="2.00" fill="#222a5e" />
<rect x="214.30" y="203.70" width="4.80" height="2.00" fill="#3a7fc6" />
<rect x="214.30" y="206.32" width="4.80" height="2.00" fill="#3a7fc6" />
<rect x="214.30" y="208.94" width="4.80" height="2.00" fill="#3a7fc6" />
<rect x="214.30" y="211.56" width="4.80" height="2.00" fill="#3a7fc6" />
<rect x="214.30" y="214.18" width="4.80" height="2.00" fill="#222a5e" />
<rect x="214.30" y="216.80" width="4.80" height="2.00" fill="#3a7fc6" />
<rect x="214.30" y="219.42" width="4.80" height="2.00" fill="#3a7fc6" />
<rect x="214.30" y="222.04" width="4.80" height="2.00" fill="#3a7fc6" />
<rect x="214.30" y="224.66" width="4.80" height="2.00" fill="#3a7fc6" />
<rect x="214.30" y="227.28" width="4.80" height="2.00" fill="#3a7fc6" />
<rect x="214.30" y="229.90" width="4.80" height="2.00" fill="#3a7fc6" />
<rect x="214.30" y="232.52" width="4.80" height="2.00" fill="#3a7fc6" />
<rect x="214.30" y="235.14" width="4.80" height="2.00" fill="#222a5e" />
<rect x="214.30" y="237.76" width="4.80" height="2.00" fill="#222a5e" />
<rect x="214.30" y="240.38" width="4.80" height="2.00" fill="#3a7fc6" />
<rect x="214.30" y="243.00" width="4.80" height="2.00" fill="#3a7fc6" />
<rect x="214.30" y="245.62" width="4.80" height="2.00" fill="#222a5e" />
<rect x="214.30" y="248.24" width="4.80" height="2.00" fill="#ec7a2c" />
<rect x="214.30" y="250.86" width="4.80" height="2.00" fill="#ec7a2c" />
<rect x="214.30" y="253.48" width="4.80" height="2.00" fill="#3a7fc6" />
<rect x="214.30" y="256.10" width="4.80" height="2.00" fill="#3a7fc6" />
<rect x="214.30" y="258.72" width="4.80" height="2.00" fill="#3a7fc6" />
<rect x="214.30" y="261.34" width="4.80" height="2.00" fill="#222a5e" />
<rect x="214.30" y="263.96" width="4.80" height="2.00" fill="#3a7fc6" />
<rect x="214.30" y="266.58" width="4.80" height="2.00" fill="#222a5e" />
<rect x="214.30" y="269.20" width="4.80" height="2.00" fill="#222a5e" />
<rect x="214.30" y="271.82" width="4.80" height="2.00" fill="#3a7fc6" />
<rect x="214.30" y="274.44" width="4.80" height="2.00" fill="#222a5e" />
<rect x="214.30" y="277.06" width="4.80" height="2.00" fill="#222a5e" />
<rect x="214.30" y="279.68" width="4.80" height="2.00" fill="#3a7fc6" />
<rect x="214.30" y="282.30" width="4.80" height="2.00" fill="#3a7fc6" />
<rect x="214.30" y="284.92" width="4.80" height="2.00" fill="#3a7fc6" />
<rect x="214.30" y="287.54" width="4.80" height="2.00" fill="#ec7a2c" />
<rect x="214.30" y="290.16" width="4.80" height="2.00" fill="#222a5e" />
<rect x="214.30" y="292.78" width="4.80" height="2.00" fill="#ec7a2c" />
<rect x="214.30" y="295.40" width="4.80" height="2.00" fill="#ec7a2c" />
<rect x="214.30" y="298.02" width="4.80" height="2.00" fill="#3a7fc6" />
<rect x="214.30" y="300.64" width="4.80" height="2.00" fill="#222a5e" />
<rect x="214.30" y="303.26" width="4.80" height="2.00" fill="#3a7fc6" />
<rect x="214.30" y="305.88" width="4.80" height="2.00" fill="#222a5e" />
<rect x="214.30" y="308.50" width="4.80" height="2.00" fill="#3a7fc6" />
<rect x="214.30" y="311.12" width="4.80" height="2.00" fill="#222a5e" />
<rect x="214.30" y="313.74" width="4.80" height="2.00" fill="#3a7fc6" />
<rect x="214.30" y="316.36" width="4.80" height="2.00" fill="#3a7fc6" />
<rect x="214.30" y="318.98" width="4.80" height="2.00" fill="#3a7fc6" />
<rect x="214.30" y="321.60" width="4.80" height="2.00" fill="#222a5e" />
<rect x="214.30" y="324.22" width="4.80" height="2.00" fill="#3a7fc6" />
<rect x="214.30" y="326.84" width="4.80" height="2.00" fill="#222a5e" />
<rect x="214.30" y="329.46" width="4.80" height="2.00" fill="#222a5e" />
<rect x="214.30" y="332.08" width="4.80" height="2.00" fill="#ec7a2c" />
<rect x="214.30" y="334.70" width="4.80" height="2.00" fill="#3a7fc6" />
<rect x="214.30" y="337.32" width="4.80" height="2.00" fill="#3a7fc6" />
<rect x="214.30" y="339.94" width="4.80" height="2.00" fill="#3a7fc6" />
<rect x="214.30" y="342.56" width="4.80" height="2.00" fill="#222a5e" />
<rect x="214.30" y="345.18" width="4.80" height="2.00" fill="#222a5e" />
<rect x="214.30" y="347.80" width="4.80" height="2.00" fill="#222a5e" />
<rect x="214.30" y="350.42" width="4.80" height="2.00" fill="#3a7fc6" />
<rect x="214.30" y="353.04" width="4.80" height="2.00" fill="#ec7a2c" />
<rect x="214.30" y="355.66" width="4.80" height="2.00" fill="#3a7fc6" />
<rect x="214.30" y="358.28" width="4.80" height="2.00" fill="#222a5e" />
<rect x="214.30" y="360.90" width="4.80" height="2.00" fill="#ec7a2c" />
<rect x="214.30" y="363.52" width="4.80" height="2.00" fill="#ec7a2c" />
<rect x="214.30" y="366.14" width="4.80" height="2.00" fill="#3a7fc6" />
<rect x="214.30" y="368.76" width="4.80" height="2.00" fill="#222a5e" />
<rect x="214.30" y="371.38" width="4.80" height="2.00" fill="#222a5e" />
<rect x="214.30" y="374.00" width="4.80" height="2.00" fill="#222a5e" />
<rect x="214.30" y="376.62" width="4.80" height="2.00" fill="#222a5e" />
<rect x="214.30" y="379.24" width="4.80" height="2.00" fill="#222a5e" />
<rect x="214.30" y="381.86" width="4.80" height="2.00" fill="#3a7fc6" />
<rect x="214.30" y="384.48" width="4.80" height="2.00" fill="#3a7fc6" />
<rect x="214.30" y="387.10" width="4.80" height="2.00" fill="#3a7fc6" />
<rect x="214.30" y="389.72" width="4.80" height="2.00" fill="#222a5e" />
<rect x="214.30" y="392.34" width="4.80" height="2.00" fill="#222a5e" />
<line x1="222.20" y1="178.50" x2="381.20" y2="178.50" stroke="#25966a" stroke-width="1.8" />
<path d="M384.00 178.50L380.00 176.12L380.00 180.88Z" fill="#25966a"/>
<path d="M229.30 177.60L230.20 178.50L229.30 179.40L228.40 178.50Z" fill="#9a9a9a"/>
<path d="M262.75 177.15L264.10 178.50L262.75 179.85L261.40 178.50Z" fill="#cc2d67"/>
<line x1="222.20" y1="181.12" x2="332.40" y2="181.12" stroke="#b0d699" stroke-width="1.5" />
<path d="M335.20 181.12L332.32 179.41L332.32 182.83Z" fill="#9ccb80"/>
<path d="M224.90 180.22L225.80 181.12L224.90 182.02L224.00 181.12Z" fill="#9a9a9a"/>
<line x1="222.20" y1="183.74" x2="320.80" y2="183.74" stroke="#b0d699" stroke-width="1.5" />
<path d="M323.60 183.74L320.72 182.03L320.72 185.45Z" fill="#9ccb80"/>
<path d="M224.90 182.84L225.80 183.74L224.90 184.64L224.00 183.74Z" fill="#9a9a9a"/>
<path d="M229.30 182.84L230.20 183.74L229.30 184.64L228.40 183.74Z" fill="#9a9a9a"/>
<line x1="222.20" y1="186.36" x2="304.00" y2="186.36" stroke="#b0d699" stroke-width="1.5" />
<path d="M224.90 185.46L225.80 186.36L224.90 187.26L224.00 186.36Z" fill="#9a9a9a"/>
<path d="M229.30 185.46L230.20 186.36L229.30 187.26L228.40 186.36Z" fill="#9a9a9a"/>
<path d="M305.75 185.01L307.10 186.36L305.75 187.71L304.40 186.36Z" fill="#8ea8d8"/>
<line x1="222.20" y1="188.98" x2="298.00" y2="188.98" stroke="#b0d699" stroke-width="1.5" />
<path d="M224.90 188.08L225.80 188.98L224.90 189.88L224.00 188.98Z" fill="#9a9a9a"/>
<path d="M229.30 188.08L230.20 188.98L229.30 189.88L228.40 188.98Z" fill="#9a9a9a"/>
<path d="M299.50 187.63L300.85 188.98L299.50 190.33L298.15 188.98Z" fill="#8ea8d8"/>
<line x1="222.20" y1="191.60" x2="297.00" y2="191.60" stroke="#b0d699" stroke-width="1.5" />
<path d="M229.30 190.70L230.20 191.60L229.30 192.50L228.40 191.60Z" fill="#9a9a9a"/>
<path d="M297.00 190.25L298.35 191.60L297.00 192.95L295.65 191.60Z" fill="#86bb6a"/>
<line x1="222.20" y1="194.22" x2="293.25" y2="194.22" stroke="#b0d699" stroke-width="1.5" />
<path d="M224.90 193.32L225.80 194.22L224.90 195.12L224.00 194.22Z" fill="#9a9a9a"/>
<path d="M293.50 192.87L294.85 194.22L293.50 195.57L292.15 194.22Z" fill="#8ea8d8"/>
<line x1="222.20" y1="196.84" x2="287.00" y2="196.84" stroke="#b0d699" stroke-width="1.5" />
<path d="M224.90 195.94L225.80 196.84L224.90 197.74L224.00 196.84Z" fill="#9a9a9a"/>
<path d="M229.30 195.94L230.20 196.84L229.30 197.74L228.40 196.84Z" fill="#9a9a9a"/>
<path d="M287.00 195.49L288.35 196.84L287.00 198.19L285.65 196.84Z" fill="#8ea8d8"/>
<line x1="222.20" y1="199.46" x2="284.50" y2="199.46" stroke="#b0d699" stroke-width="1.5" />
<path d="M224.90 198.56L225.80 199.46L224.90 200.36L224.00 199.46Z" fill="#9a9a9a"/>
<path d="M229.30 198.56L230.20 199.46L229.30 200.36L228.40 199.46Z" fill="#9a9a9a"/>
<line x1="222.20" y1="202.08" x2="283.25" y2="202.08" stroke="#b0d699" stroke-width="1.5" />
<path d="M224.90 201.18L225.80 202.08L224.90 202.98L224.00 202.08Z" fill="#9a9a9a"/>
<path d="M229.30 201.18L230.20 202.08L229.30 202.98L228.40 202.08Z" fill="#9a9a9a"/>
<path d="M283.50 200.73L284.85 202.08L283.50 203.43L282.15 202.08Z" fill="#8ea8d8"/>
<line x1="222.20" y1="204.70" x2="282.50" y2="204.70" stroke="#b0d699" stroke-width="1.5" />
<path d="M229.30 203.80L230.20 204.70L229.30 205.60L228.40 204.70Z" fill="#9a9a9a"/>
<path d="M282.50 203.35L283.85 204.70L282.50 206.05L281.15 204.70Z" fill="#86bb6a"/>
<line x1="222.20" y1="207.32" x2="282.00" y2="207.32" stroke="#b0d699" stroke-width="1.5" />
<path d="M224.90 206.42L225.80 207.32L224.90 208.22L224.00 207.32Z" fill="#9a9a9a"/>
<path d="M282.00 205.97L283.35 207.32L282.00 208.67L280.65 207.32Z" fill="#86bb6a"/>
<line x1="222.20" y1="209.94" x2="280.75" y2="209.94" stroke="#b0d699" stroke-width="1.5" />
<path d="M224.90 209.04L225.80 209.94L224.90 210.84L224.00 209.94Z" fill="#9a9a9a"/>
<path d="M229.30 209.04L230.20 209.94L229.30 210.84L228.40 209.94Z" fill="#9a9a9a"/>
<line x1="222.20" y1="212.56" x2="278.25" y2="212.56" stroke="#454545" stroke-width="1.9" />
<path d="M224.90 211.66L225.80 212.56L224.90 213.46L224.00 212.56Z" fill="#888"/>
<path d="M229.30 211.66L230.20 212.56L229.30 213.46L228.40 212.56Z" fill="#888"/>
<line x1="222.20" y1="215.18" x2="279.50" y2="215.18" stroke="#b0d699" stroke-width="1.5" />
<path d="M224.90 214.28L225.80 215.18L224.90 216.08L224.00 215.18Z" fill="#9a9a9a"/>
<path d="M229.30 214.28L230.20 215.18L229.30 216.08L228.40 215.18Z" fill="#9a9a9a"/>
<path d="M279.50 213.83L280.85 215.18L279.50 216.53L278.15 215.18Z" fill="#86bb6a"/>
<line x1="222.20" y1="217.80" x2="277.50" y2="217.80" stroke="#b0d699" stroke-width="1.5" />
<path d="M229.30 216.90L230.20 217.80L229.30 218.70L228.40 217.80Z" fill="#9a9a9a"/>
<path d="M262.00 216.45L263.35 217.80L262.00 219.15L260.65 217.80Z" fill="#8ea8d8"/>
<line x1="222.20" y1="220.42" x2="274.50" y2="220.42" stroke="#b0d699" stroke-width="1.5" />
<path d="M224.90 219.52L225.80 220.42L224.90 221.32L224.00 220.42Z" fill="#9a9a9a"/>
<path d="M274.50 219.07L275.85 220.42L274.50 221.77L273.15 220.42Z" fill="#8ea8d8"/>
<line x1="222.20" y1="223.04" x2="273.25" y2="223.04" stroke="#b0d699" stroke-width="1.5" />
<path d="M224.90 222.14L225.80 223.04L224.90 223.94L224.00 223.04Z" fill="#9a9a9a"/>
<path d="M229.30 222.14L230.20 223.04L229.30 223.94L228.40 223.04Z" fill="#9a9a9a"/>
<line x1="222.20" y1="225.66" x2="275.50" y2="225.66" stroke="#454545" stroke-width="1.9" />
<path d="M278.30 225.66L274.30 223.28L274.30 228.03Z" fill="#454545"/>
<path d="M224.90 224.76L225.80 225.66L224.90 226.56L224.00 225.66Z" fill="#888"/>
<path d="M229.30 224.76L230.20 225.66L229.30 226.56L228.40 225.66Z" fill="#888"/>
<line x1="222.20" y1="228.28" x2="273.25" y2="228.28" stroke="#b0d699" stroke-width="1.5" />
<path d="M224.90 227.38L225.80 228.28L224.90 229.18L224.00 228.28Z" fill="#9a9a9a"/>
<path d="M229.30 227.38L230.20 228.28L229.30 229.18L228.40 228.28Z" fill="#9a9a9a"/>
<path d="M274.00 226.93L275.35 228.28L274.00 229.63L272.65 228.28Z" fill="#8ea8d8"/>
<line x1="222.20" y1="230.90" x2="273.20" y2="230.90" stroke="#454545" stroke-width="1.9" />
<path d="M229.30 230.00L230.20 230.90L229.30 231.80L228.40 230.90Z" fill="#888"/>
<path d="M275.20 229.55L276.55 230.90L275.20 232.25L273.85 230.90Z" fill="#8ea8d8"/>
<line x1="222.20" y1="233.52" x2="269.00" y2="233.52" stroke="#b0d699" stroke-width="1.5" />
<path d="M224.90 232.62L225.80 233.52L224.90 234.42L224.00 233.52Z" fill="#9a9a9a"/>
<line x1="222.20" y1="236.14" x2="266.60" y2="236.14" stroke="#b0d699" stroke-width="1.5" />
<path d="M224.90 235.24L225.80 236.14L224.90 237.04L224.00 236.14Z" fill="#9a9a9a"/>
<path d="M229.30 235.24L230.20 236.14L229.30 237.04L228.40 236.14Z" fill="#9a9a9a"/>
<path d="M261.50 234.79L262.85 236.14L261.50 237.49L260.15 236.14Z" fill="#8ea8d8"/>
<line x1="222.20" y1="238.76" x2="268.00" y2="238.76" stroke="#b0d699" stroke-width="1.5" />
<path d="M224.90 237.86L225.80 238.76L224.90 239.66L224.00 238.76Z" fill="#9a9a9a"/>
<path d="M229.30 237.86L230.20 238.76L229.30 239.66L228.40 238.76Z" fill="#9a9a9a"/>
<line x1="222.20" y1="241.38" x2="268.00" y2="241.38" stroke="#b0d699" stroke-width="1.5" />
<path d="M224.90 240.48L225.80 241.38L224.90 242.28L224.00 241.38Z" fill="#9a9a9a"/>
<path d="M229.30 240.48L230.20 241.38L229.30 242.28L228.40 241.38Z" fill="#9a9a9a"/>
<line x1="222.20" y1="244.00" x2="265.00" y2="244.00" stroke="#b0d699" stroke-width="1.5" />
<path d="M229.30 243.10L230.20 244.00L229.30 244.90L228.40 244.00Z" fill="#9a9a9a"/>
<line x1="222.20" y1="246.62" x2="263.50" y2="246.62" stroke="#b0d699" stroke-width="1.5" />
<path d="M224.90 245.72L225.80 246.62L224.90 247.52L224.00 246.62Z" fill="#9a9a9a"/>
<path d="M264.50 245.27L265.85 246.62L264.50 247.97L263.15 246.62Z" fill="#8ea8d8"/>
<line x1="222.00" y1="249.24" x2="233.00" y2="249.24" stroke="#b0d699" stroke-width="1.5" />
<line x1="233.00" y1="249.24" x2="259.70" y2="249.24" stroke="#25966a" stroke-width="1.8" />
<path d="M231.70 247.89L233.05 249.24L231.70 250.59L230.35 249.24Z" fill="#cc2d67"/>
<path d="M262.80 247.89L264.15 249.24L262.80 250.59L261.45 249.24Z" fill="#8ea8d8"/>
<line x1="222.20" y1="251.86" x2="260.00" y2="251.86" stroke="#454545" stroke-width="1.9" />
<path d="M224.90 250.96L225.80 251.86L224.90 252.76L224.00 251.86Z" fill="#888"/>
<path d="M229.30 250.96L230.20 251.86L229.30 252.76L228.40 251.86Z" fill="#888"/>
<path d="M262.50 250.51L263.85 251.86L262.50 253.21L261.15 251.86Z" fill="#8ea8d8"/>
<line x1="222.20" y1="254.48" x2="262.00" y2="254.48" stroke="#b0d699" stroke-width="1.5" />
<path d="M224.90 253.58L225.80 254.48L224.90 255.38L224.00 254.48Z" fill="#9a9a9a"/>
<path d="M229.30 253.58L230.20 254.48L229.30 255.38L228.40 254.48Z" fill="#9a9a9a"/>
<path d="M263.50 253.13L264.85 254.48L263.50 255.83L262.15 254.48Z" fill="#8ea8d8"/>
<line x1="222.20" y1="257.10" x2="260.00" y2="257.10" stroke="#b0d699" stroke-width="1.5" />
<path d="M229.30 256.20L230.20 257.10L229.30 258.00L228.40 257.10Z" fill="#9a9a9a"/>
<path d="M263.00 255.75L264.35 257.10L263.00 258.45L261.65 257.10Z" fill="#8ea8d8"/>
<line x1="222.20" y1="259.72" x2="259.70" y2="259.72" stroke="#b0d699" stroke-width="1.5" />
<path d="M224.90 258.82L225.80 259.72L224.90 260.62L224.00 259.72Z" fill="#9a9a9a"/>
<path d="M261.20 258.37L262.55 259.72L261.20 261.07L259.85 259.72Z" fill="#8ea8d8"/>
<line x1="222.20" y1="262.34" x2="258.00" y2="262.34" stroke="#b0d699" stroke-width="1.5" />
<path d="M224.90 261.44L225.80 262.34L224.90 263.24L224.00 262.34Z" fill="#9a9a9a"/>
<path d="M229.30 261.44L230.20 262.34L229.30 263.24L228.40 262.34Z" fill="#9a9a9a"/>
<line x1="222.20" y1="264.96" x2="257.40" y2="264.96" stroke="#b0d699" stroke-width="1.5" />
<path d="M224.90 264.06L225.80 264.96L224.90 265.86L224.00 264.96Z" fill="#9a9a9a"/>
<path d="M229.30 264.06L230.20 264.96L229.30 265.86L228.40 264.96Z" fill="#9a9a9a"/>
<line x1="222.20" y1="267.58" x2="255.80" y2="267.58" stroke="#454545" stroke-width="1.9" />
<path d="M224.90 266.68L225.80 267.58L224.90 268.48L224.00 267.58Z" fill="#888"/>
<path d="M229.30 266.68L230.20 267.58L229.30 268.48L228.40 267.58Z" fill="#888"/>
<path d="M258.00 266.23L259.35 267.58L258.00 268.93L256.65 267.58Z" fill="#8ea8d8"/>
<line x1="222.20" y1="270.20" x2="255.80" y2="270.20" stroke="#b0d699" stroke-width="1.5" />
<path d="M229.30 269.30L230.20 270.20L229.30 271.10L228.40 270.20Z" fill="#9a9a9a"/>
<path d="M257.20 268.85L258.55 270.20L257.20 271.55L255.85 270.20Z" fill="#8ea8d8"/>
<line x1="222.20" y1="272.82" x2="250.50" y2="272.82" stroke="#454545" stroke-width="1.9" />
<path d="M224.90 271.92L225.80 272.82L224.90 273.72L224.00 272.82Z" fill="#888"/>
<path d="M253.00 271.47L254.35 272.82L253.00 274.17L251.65 272.82Z" fill="#8ea8d8"/>
<line x1="222.20" y1="275.44" x2="251.20" y2="275.44" stroke="#b0d699" stroke-width="1.5" />
<path d="M224.90 274.54L225.80 275.44L224.90 276.34L224.00 275.44Z" fill="#9a9a9a"/>
<path d="M229.30 274.54L230.20 275.44L229.30 276.34L228.40 275.44Z" fill="#9a9a9a"/>
<path d="M253.00 274.09L254.35 275.44L253.00 276.79L251.65 275.44Z" fill="#8ea8d8"/>
<line x1="222.20" y1="278.06" x2="249.70" y2="278.06" stroke="#b0d699" stroke-width="1.5" />
<path d="M224.90 277.16L225.80 278.06L224.90 278.96L224.00 278.06Z" fill="#9a9a9a"/>
<path d="M229.30 277.16L230.20 278.06L229.30 278.96L228.40 278.06Z" fill="#9a9a9a"/>
<path d="M252.00 276.71L253.35 278.06L252.00 279.41L250.65 278.06Z" fill="#8ea8d8"/>
<line x1="222.20" y1="280.68" x2="249.70" y2="280.68" stroke="#b0d699" stroke-width="1.5" />
<path d="M224.90 279.78L225.80 280.68L224.90 281.58L224.00 280.68Z" fill="#9a9a9a"/>
<path d="M229.30 279.78L230.20 280.68L229.30 281.58L228.40 280.68Z" fill="#9a9a9a"/>
<path d="M252.00 279.33L253.35 280.68L252.00 282.03L250.65 280.68Z" fill="#8ea8d8"/>
<line x1="222.20" y1="283.30" x2="249.70" y2="283.30" stroke="#b0d699" stroke-width="1.5" />
<path d="M229.30 282.40L230.20 283.30L229.30 284.20L228.40 283.30Z" fill="#9a9a9a"/>
<path d="M252.00 281.95L253.35 283.30L252.00 284.65L250.65 283.30Z" fill="#8ea8d8"/>
<line x1="222.20" y1="285.92" x2="249.70" y2="285.92" stroke="#454545" stroke-width="1.9" />
<path d="M224.90 285.02L225.80 285.92L224.90 286.82L224.00 285.92Z" fill="#888"/>
<path d="M251.60 284.57L252.95 285.92L251.60 287.27L250.25 285.92Z" fill="#8ea8d8"/>
<line x1="222.20" y1="288.54" x2="245.00" y2="288.54" stroke="#454545" stroke-width="1.9" />
<path d="M224.90 287.64L225.80 288.54L224.90 289.44L224.00 288.54Z" fill="#888"/>
<path d="M229.30 287.64L230.20 288.54L229.30 289.44L228.40 288.54Z" fill="#888"/>
<path d="M247.00 287.19L248.35 288.54L247.00 289.89L245.65 288.54Z" fill="#8ea8d8"/>
<line x1="222.20" y1="291.16" x2="245.00" y2="291.16" stroke="#b0d699" stroke-width="1.5" />
<path d="M224.90 290.26L225.80 291.16L224.90 292.06L224.00 291.16Z" fill="#9a9a9a"/>
<path d="M229.30 290.26L230.20 291.16L229.30 292.06L228.40 291.16Z" fill="#9a9a9a"/>
<path d="M247.70 289.81L249.05 291.16L247.70 292.51L246.35 291.16Z" fill="#8ea8d8"/>
<line x1="222.20" y1="293.78" x2="244.30" y2="293.78" stroke="#b0d699" stroke-width="1.5" />
<path d="M224.90 292.88L225.80 293.78L224.90 294.68L224.00 293.78Z" fill="#9a9a9a"/>
<path d="M229.30 292.88L230.20 293.78L229.30 294.68L228.40 293.78Z" fill="#9a9a9a"/>
<path d="M246.60 292.43L247.95 293.78L246.60 295.13L245.25 293.78Z" fill="#8ea8d8"/>
<line x1="222.20" y1="296.40" x2="245.00" y2="296.40" stroke="#454545" stroke-width="1.9" />
<path d="M229.30 295.50L230.20 296.40L229.30 297.30L228.40 296.40Z" fill="#888"/>
<line x1="222.20" y1="299.02" x2="244.30" y2="299.02" stroke="#454545" stroke-width="1.9" />
<path d="M224.90 298.12L225.80 299.02L224.90 299.92L224.00 299.02Z" fill="#888"/>
<path d="M246.00 297.67L247.35 299.02L246.00 300.37L244.65 299.02Z" fill="#8ea8d8"/>
<line x1="222.20" y1="301.64" x2="245.00" y2="301.64" stroke="#b0d699" stroke-width="1.5" />
<path d="M224.90 300.74L225.80 301.64L224.90 302.54L224.00 301.64Z" fill="#9a9a9a"/>
<path d="M229.30 300.74L230.20 301.64L229.30 302.54L228.40 301.64Z" fill="#9a9a9a"/>
<path d="M247.80 300.29L249.15 301.64L247.80 302.99L246.45 301.64Z" fill="#8ea8d8"/>
<line x1="222.20" y1="304.26" x2="242.00" y2="304.26" stroke="#b0d699" stroke-width="1.5" />
<path d="M224.90 303.36L225.80 304.26L224.90 305.16L224.00 304.26Z" fill="#9a9a9a"/>
<path d="M229.30 303.36L230.20 304.26L229.30 305.16L228.40 304.26Z" fill="#9a9a9a"/>
<line x1="222.20" y1="306.88" x2="241.20" y2="306.88" stroke="#454545" stroke-width="1.9" />
<path d="M224.90 305.98L225.80 306.88L224.90 307.78L224.00 306.88Z" fill="#888"/>
<path d="M229.30 305.98L230.20 306.88L229.30 307.78L228.40 306.88Z" fill="#888"/>
<path d="M243.50 305.53L244.85 306.88L243.50 308.23L242.15 306.88Z" fill="#8ea8d8"/>
<line x1="222.20" y1="309.50" x2="239.70" y2="309.50" stroke="#b0d699" stroke-width="1.5" />
<path d="M229.30 308.60L230.20 309.50L229.30 310.40L228.40 309.50Z" fill="#9a9a9a"/>
<path d="M241.50 308.15L242.85 309.50L241.50 310.85L240.15 309.50Z" fill="#8ea8d8"/>
<line x1="222.20" y1="312.12" x2="240.50" y2="312.12" stroke="#b0d699" stroke-width="1.5" />
<path d="M224.90 311.22L225.80 312.12L224.90 313.02L224.00 312.12Z" fill="#9a9a9a"/>
<line x1="222.20" y1="314.74" x2="240.50" y2="314.74" stroke="#454545" stroke-width="1.9" />
<path d="M224.90 313.84L225.80 314.74L224.90 315.64L224.00 314.74Z" fill="#888"/>
<path d="M229.30 313.84L230.20 314.74L229.30 315.64L228.40 314.74Z" fill="#888"/>
<path d="M242.60 313.39L243.95 314.74L242.60 316.09L241.25 314.74Z" fill="#8ea8d8"/>
<line x1="222.20" y1="317.36" x2="240.50" y2="317.36" stroke="#b0d699" stroke-width="1.5" />
<path d="M224.90 316.46L225.80 317.36L224.90 318.26L224.00 317.36Z" fill="#9a9a9a"/>
<path d="M229.30 316.46L230.20 317.36L229.30 318.26L228.40 317.36Z" fill="#9a9a9a"/>
<line x1="222.20" y1="319.98" x2="238.20" y2="319.98" stroke="#b0d699" stroke-width="1.5" />
<path d="M224.90 319.08L225.80 319.98L224.90 320.88L224.00 319.98Z" fill="#9a9a9a"/>
<path d="M229.30 319.08L230.20 319.98L229.30 320.88L228.40 319.98Z" fill="#9a9a9a"/>
<line x1="222.20" y1="322.60" x2="235.80" y2="322.60" stroke="#454545" stroke-width="1.9" />
<path d="M229.30 321.70L230.20 322.60L229.30 323.50L228.40 322.60Z" fill="#888"/>
<path d="M237.80 321.25L239.15 322.60L237.80 323.95L236.45 322.60Z" fill="#6a6a6a"/>
<line x1="222.20" y1="325.22" x2="235.00" y2="325.22" stroke="#7f9bd0" stroke-width="1.5" />
<line x1="222.20" y1="327.84" x2="239.00" y2="327.84" stroke="#454545" stroke-width="1.9" />
<path d="M224.90 326.94L225.80 327.84L224.90 328.74L224.00 327.84Z" fill="#888"/>
<path d="M229.30 326.94L230.20 327.84L229.30 328.74L228.40 327.84Z" fill="#888"/>
<path d="M241.00 326.49L242.35 327.84L241.00 329.19L239.65 327.84Z" fill="#8ea8d8"/>
<line x1="222.20" y1="330.46" x2="237.40" y2="330.46" stroke="#b0d699" stroke-width="1.5" />
<path d="M224.90 329.56L225.80 330.46L224.90 331.36L224.00 330.46Z" fill="#9a9a9a"/>
<path d="M229.30 329.56L230.20 330.46L229.30 331.36L228.40 330.46Z" fill="#9a9a9a"/>
<line x1="222.20" y1="333.08" x2="235.00" y2="333.08" stroke="#454545" stroke-width="1.9" />
<path d="M237.00 331.73L238.35 333.08L237.00 334.43L235.65 333.08Z" fill="#8ea8d8"/>
<line x1="222.20" y1="335.70" x2="235.00" y2="335.70" stroke="#7f9bd0" stroke-width="1.5" />
<line x1="222.20" y1="338.32" x2="235.00" y2="338.32" stroke="#454545" stroke-width="1.9" />
<line x1="222.20" y1="340.94" x2="234.50" y2="340.94" stroke="#b0d699" stroke-width="1.5" />
<path d="M236.20 339.59L237.55 340.94L236.20 342.29L234.85 340.94Z" fill="#8ea8d8"/>
<line x1="222.20" y1="343.56" x2="234.50" y2="343.56" stroke="#7f9bd0" stroke-width="1.5" />
<path d="M236.50 342.21L237.85 343.56L236.50 344.91L235.15 343.56Z" fill="#8ea8d8"/>
<line x1="222.20" y1="346.18" x2="232.80" y2="346.18" stroke="#7f9bd0" stroke-width="1.5" />
<path d="M234.00 344.83L235.35 346.18L234.00 347.53L232.65 346.18Z" fill="#8ea8d8"/>
<line x1="222.20" y1="348.80" x2="232.80" y2="348.80" stroke="#7f9bd0" stroke-width="1.5" />
<line x1="222.20" y1="351.42" x2="232.20" y2="351.42" stroke="#7f9bd0" stroke-width="1.5" />
<path d="M233.50 350.07L234.85 351.42L233.50 352.77L232.15 351.42Z" fill="#8ea8d8"/>
<line x1="222.20" y1="354.04" x2="229.30" y2="354.04" stroke="#c6c6c8" stroke-width="1.4" />
<line x1="222.20" y1="356.66" x2="229.30" y2="356.66" stroke="#c6c6c8" stroke-width="1.4" />
<line x1="222.20" y1="359.28" x2="228.70" y2="359.28" stroke="#7f9bd0" stroke-width="1.5" />
<path d="M229.80 357.93L231.15 359.28L229.80 360.63L228.45 359.28Z" fill="#8ea8d8"/>
<line x1="222.20" y1="361.90" x2="229.00" y2="361.90" stroke="#c6c6c8" stroke-width="1.4" />
<path d="M232.80 360.55L234.15 361.90L232.80 363.25L231.45 361.90Z" fill="#86bb6a"/>
<line x1="222.20" y1="364.52" x2="226.40" y2="364.52" stroke="#7f9bd0" stroke-width="1.5" />
<path d="M227.50 363.17L228.85 364.52L227.50 365.87L226.15 364.52Z" fill="#8ea8d8"/>
<line x1="222.20" y1="367.14" x2="226.40" y2="367.14" stroke="#7f9bd0" stroke-width="1.5" />
<line x1="222.20" y1="369.76" x2="226.40" y2="369.76" stroke="#7f9bd0" stroke-width="1.5" />
<path d="M227.30 368.41L228.65 369.76L227.30 371.11L225.95 369.76Z" fill="#8ea8d8"/>
<line x1="222.20" y1="372.38" x2="226.40" y2="372.38" stroke="#7f9bd0" stroke-width="1.5" />
<path d="M227.30 371.03L228.65 372.38L227.30 373.73L225.95 372.38Z" fill="#8ea8d8"/>
<line x1="222.20" y1="375.00" x2="226.00" y2="375.00" stroke="#7f9bd0" stroke-width="1.5" />
<line x1="222.20" y1="377.62" x2="226.00" y2="377.62" stroke="#7f9bd0" stroke-width="1.5" />
<path d="M227.00 376.27L228.35 377.62L227.00 378.97L225.65 377.62Z" fill="#8ea8d8"/>
<line x1="222.20" y1="380.24" x2="226.00" y2="380.24" stroke="#7f9bd0" stroke-width="1.5" />
<line x1="222.20" y1="382.86" x2="226.00" y2="382.86" stroke="#7f9bd0" stroke-width="1.5" />
<line x1="222.20" y1="385.48" x2="226.00" y2="385.48" stroke="#7f9bd0" stroke-width="1.5" />
<path d="M226.50 384.13L227.85 385.48L226.50 386.83L225.15 385.48Z" fill="#8ea8d8"/>
<line x1="222.20" y1="388.10" x2="225.00" y2="388.10" stroke="#c6c6c8" stroke-width="1.4" />
<line x1="222.20" y1="390.72" x2="224.50" y2="390.72" stroke="#c6c6c8" stroke-width="1.4" />
<path d="M227.00 389.37L228.35 390.72L227.00 392.07L225.65 390.72Z" fill="#86bb6a"/>
<line x1="222.20" y1="393.34" x2="224.00" y2="393.34" stroke="#c6c6c8" stroke-width="1.4" />
<line x1="4.30" y1="174.60" x2="4.30" y2="396.30" stroke="#111" stroke-width="1.2" />
<line x1="3.70" y1="396.30" x2="189.50" y2="396.30" stroke="#111" stroke-width="1.3" />
<line x1="4.50" y1="396.30" x2="4.50" y2="398.80" stroke="#111" stroke-width="1" />
<text x="4.70" y="407.00" font-size="10.0" text-anchor="middle" font-weight="normal" fill="#222" stroke="#222" >0</text>
<line x1="41.40" y1="396.30" x2="41.40" y2="398.80" stroke="#111" stroke-width="1" />
<text x="41.60" y="407.00" font-size="10.0" text-anchor="middle" font-weight="normal" fill="#222" stroke="#222" >10</text>
<line x1="78.30" y1="396.30" x2="78.30" y2="398.80" stroke="#111" stroke-width="1" />
<text x="78.50" y="407.00" font-size="10.0" text-anchor="middle" font-weight="normal" fill="#222" stroke="#222" >20</text>
<line x1="115.20" y1="396.30" x2="115.20" y2="398.80" stroke="#111" stroke-width="1" />
<text x="115.40" y="407.00" font-size="10.0" text-anchor="middle" font-weight="normal" fill="#222" stroke="#222" >30</text>
<line x1="152.10" y1="396.30" x2="152.10" y2="398.80" stroke="#111" stroke-width="1" />
<text x="152.30" y="407.00" font-size="10.0" text-anchor="middle" font-weight="normal" fill="#222" stroke="#222" >40</text>
<line x1="189.00" y1="396.30" x2="189.00" y2="398.80" stroke="#111" stroke-width="1" />
<text x="189.20" y="407.00" font-size="10.0" text-anchor="middle" font-weight="normal" fill="#222" stroke="#222" >50</text>
<line x1="221.70" y1="174.70" x2="221.70" y2="396.30" stroke="#111" stroke-width="1.2" />
<line x1="221.10" y1="396.30" x2="406.90" y2="396.30" stroke="#111" stroke-width="1.3" />
<line x1="221.90" y1="396.30" x2="221.90" y2="398.80" stroke="#111" stroke-width="1" />
<text x="222.10" y="407.00" font-size="10.0" text-anchor="middle" font-weight="normal" fill="#222" stroke="#222" >0</text>
<line x1="258.80" y1="396.30" x2="258.80" y2="398.80" stroke="#111" stroke-width="1" />
<text x="259.00" y="407.00" font-size="10.0" text-anchor="middle" font-weight="normal" fill="#222" stroke="#222" >10</text>
<line x1="295.70" y1="396.30" x2="295.70" y2="398.80" stroke="#111" stroke-width="1" />
<text x="295.90" y="407.00" font-size="10.0" text-anchor="middle" font-weight="normal" fill="#222" stroke="#222" >20</text>
<line x1="332.60" y1="396.30" x2="332.60" y2="398.80" stroke="#111" stroke-width="1" />
<text x="332.80" y="407.00" font-size="10.0" text-anchor="middle" font-weight="normal" fill="#222" stroke="#222" >30</text>
<line x1="369.50" y1="396.30" x2="369.50" y2="398.80" stroke="#111" stroke-width="1" />
<text x="369.70" y="407.00" font-size="10.0" text-anchor="middle" font-weight="normal" fill="#222" stroke="#222" >40</text>
<line x1="406.40" y1="396.30" x2="406.40" y2="398.80" stroke="#111" stroke-width="1" />
<text x="406.60" y="407.00" font-size="10.0" text-anchor="middle" font-weight="normal" fill="#222" stroke="#222" >50</text>
<text x="18.20" y="427.80" font-size="10.3" text-anchor="start" font-weight="normal" fill="#222" stroke="#222" >Months since treatment initiation</text>
<text x="228.50" y="427.90" font-size="10.3" text-anchor="start" font-weight="normal" fill="#222" stroke="#222" >Months since treatment initiation</text>
<text x="348.75" y="239.00" font-size="10.2" text-anchor="start" font-weight="normal" fill="#222" stroke="#222" >BOR (investigator)</text>
<line x1="331.90" y1="247.30" x2="343.70" y2="247.30" stroke="#1a2b22" stroke-width="1.8" />
<path d="M352.50 243.90L355.90 247.30L352.50 250.70L349.10 247.30Z" fill="#d8306f"/>
<text x="360.00" y="250.90" font-size="10.2" text-anchor="start" font-weight="normal" fill="#222" stroke="#222" >CR</text>
<line x1="331.90" y1="259.55" x2="343.70" y2="259.55" stroke="#b2d196" stroke-width="1.8" />
<path d="M352.50 256.15L355.90 259.55L352.50 262.95L349.10 259.55Z" fill="#5f9c4c"/>
<text x="360.00" y="263.15" font-size="10.2" text-anchor="start" font-weight="normal" fill="#222" stroke="#222" >PR</text>
<line x1="331.90" y1="271.80" x2="343.70" y2="271.80" stroke="#565a60" stroke-width="1.8" />
<path d="M352.50 268.40L355.90 271.80L352.50 275.20L349.10 271.80Z" fill="#6b6b6b"/>
<text x="360.00" y="275.40" font-size="10.2" text-anchor="start" font-weight="normal" fill="#222" stroke="#222" >SD</text>
<line x1="331.90" y1="284.05" x2="343.70" y2="284.05" stroke="#8d9fc6" stroke-width="1.8" />
<path d="M352.50 280.65L355.90 284.05L352.50 287.45L349.10 284.05Z" fill="#9db4dc"/>
<text x="360.00" y="287.65" font-size="10.2" text-anchor="start" font-weight="normal" fill="#222" stroke="#222" >PD</text>
<line x1="331.90" y1="296.30" x2="343.70" y2="296.30" stroke="#c2c2c2" stroke-width="1.8" />
<text x="360.00" y="299.90" font-size="10.2" text-anchor="start" font-weight="normal" fill="#222" stroke="#222" >NE</text>
<text x="335.50" y="345.00" font-size="10.2" text-anchor="start" font-weight="normal" fill="#222" stroke="#222" >Prior therapies</text>
<rect x="333.30" y="351.10" width="11.20" height="12.00" fill="#3a7fc6" />
<text x="349.40" y="361.10" font-size="10.2" text-anchor="start" font-weight="normal" fill="#222" stroke="#222" >Platinum-based chemotherapy</text>
<rect x="333.30" y="363.50" width="11.20" height="12.00" fill="#222a5e" />
<text x="349.40" y="374.20" font-size="10.2" text-anchor="start" font-weight="normal" fill="#222" stroke="#222" >ICI</text>
<rect x="333.30" y="375.90" width="11.20" height="12.00" fill="#ec7a2c" />
<text x="349.40" y="387.70" font-size="10.2" text-anchor="start" font-weight="normal" fill="#222" stroke="#222" >Others</text>
</g>
<g id="C">
<text x="3.90" y="450.00" font-size="13.8" text-anchor="start" font-weight="bold" fill="#111" stroke="#111" >C</text>
<text x="212.80" y="453.50" font-size="9.2" text-anchor="start" font-weight="bold" fill="#222" stroke="#222" >Prior ICI</text>
<text x="261.60" y="453.50" font-size="9.2" text-anchor="start" font-weight="bold" fill="#222" stroke="#222" >Tepotinib</text>
<rect x="201.20" y="457.30" width="56.30" height="3.4" fill="#fff" stroke="#383838" stroke-width="1.0"/>
<path d="M257.50 457.20H445.65V456.40L450.65 459.00L445.65 461.60V460.80H257.50Z" fill="#a2d38b"/>
<rect x="239.00" y="463.01" width="18.50" height="3.4" fill="#fff" stroke="#383838" stroke-width="1.0"/>
<rect x="257.50" y="462.91" width="106.47" height="3.60" fill="#a2d38b" />
<rect x="31.10" y="468.72" width="226.40" height="3.4" fill="#fff" stroke="#383838" stroke-width="1.0"/>
<rect x="257.50" y="468.62" width="87.57" height="3.60" fill="#a2d38b" />
<rect x="213.80" y="474.43" width="43.70" height="3.4" fill="#fff" stroke="#383838" stroke-width="1.0"/>
<rect x="257.50" y="474.33" width="70.56" height="3.60" fill="#a2d38b" />
<rect x="194.90" y="480.14" width="62.60" height="3.4" fill="#fff" stroke="#383838" stroke-width="1.0"/>
<rect x="257.50" y="480.04" width="69.30" height="3.60" fill="#139447" />
<rect x="226.40" y="485.85" width="31.10" height="3.4" fill="#fff" stroke="#383838" stroke-width="1.0"/>
<rect x="257.50" y="485.75" width="61.74" height="3.60" fill="#474747" />
<rect x="220.10" y="491.56" width="37.40" height="3.4" fill="#fff" stroke="#383838" stroke-width="1.0"/>
<path d="M257.50 491.46H311.70L315.00 493.26L311.70 495.06H257.50Z" fill="#a2d38b"/>
<rect x="220.10" y="497.27" width="37.40" height="3.4" fill="#fff" stroke="#383838" stroke-width="1.0"/>
<rect x="257.50" y="497.17" width="52.29" height="3.60" fill="#a2d38b" />
<rect x="245.30" y="502.98" width="12.20" height="3.4" fill="#fff" stroke="#383838" stroke-width="1.0"/>
<rect x="257.50" y="502.88" width="44.73" height="3.60" fill="#a2d38b" />
<rect x="150.80" y="508.69" width="106.70" height="3.4" fill="#fff" stroke="#383838" stroke-width="1.0"/>
<rect x="257.50" y="508.59" width="43.47" height="3.60" fill="#474747" />
<rect x="201.20" y="514.40" width="56.30" height="3.4" fill="#fff" stroke="#383838" stroke-width="1.0"/>
<rect x="257.50" y="514.30" width="43.15" height="3.60" fill="#474747" />
<rect x="220.10" y="520.11" width="37.40" height="3.4" fill="#fff" stroke="#383838" stroke-width="1.0"/>
<rect x="257.50" y="520.01" width="37.17" height="3.60" fill="#474747" />
<rect x="232.70" y="525.82" width="24.80" height="3.4" fill="#fff" stroke="#383838" stroke-width="1.0"/>
<rect x="257.50" y="525.72" width="35.28" height="3.60" fill="#a2d38b" />
<rect x="220.10" y="531.53" width="37.40" height="3.4" fill="#fff" stroke="#383838" stroke-width="1.0"/>
<rect x="257.50" y="531.43" width="34.02" height="3.60" fill="#a2d38b" />
<rect x="239.00" y="537.24" width="18.50" height="3.4" fill="#fff" stroke="#383838" stroke-width="1.0"/>
<rect x="257.50" y="537.14" width="32.13" height="3.60" fill="#474747" />
<rect x="245.30" y="542.95" width="12.20" height="3.4" fill="#fff" stroke="#383838" stroke-width="1.0"/>
<rect x="257.50" y="542.85" width="30.87" height="3.60" fill="#a2d38b" />
<rect x="245.30" y="548.66" width="12.20" height="3.4" fill="#fff" stroke="#383838" stroke-width="1.0"/>
<rect x="257.50" y="548.56" width="26.46" height="3.60" fill="#474747" />
<rect x="251.60" y="554.37" width="5.90" height="3.4" fill="#fff" stroke="#383838" stroke-width="1.0"/>
<rect x="257.50" y="554.27" width="26.46" height="3.60" fill="#474747" />
<circle cx="252.4" cy="561.78" r="0.9" fill="#222"/>
<rect x="257.50" y="559.98" width="17.64" height="3.60" fill="#8eabe0" />
<rect x="226.40" y="565.79" width="31.10" height="3.4" fill="#fff" stroke="#383838" stroke-width="1.0"/>
<rect x="257.50" y="565.69" width="14.49" height="3.60" fill="#c9c9cc" />
<rect x="239.00" y="571.50" width="18.50" height="3.4" fill="#fff" stroke="#383838" stroke-width="1.0"/>
<rect x="257.50" y="571.40" width="13.23" height="3.60" fill="#8eabe0" />
<rect x="239.00" y="577.21" width="18.50" height="3.4" fill="#fff" stroke="#383838" stroke-width="1.0"/>
<rect x="257.50" y="577.11" width="9.45" height="3.60" fill="#8eabe0" />
<rect x="207.50" y="582.92" width="50.00" height="3.4" fill="#fff" stroke="#383838" stroke-width="1.0"/>
<rect x="257.50" y="582.82" width="9.45" height="3.60" fill="#8eabe0" />
<rect x="245.30" y="588.63" width="12.20" height="3.4" fill="#fff" stroke="#383838" stroke-width="1.0"/>
<rect x="257.50" y="588.53" width="8.82" height="3.60" fill="#8eabe0" />
<rect x="232.70" y="594.34" width="24.80" height="3.4" fill="#fff" stroke="#383838" stroke-width="1.0"/>
<rect x="257.50" y="594.24" width="8.82" height="3.60" fill="#c9c9cc" />
<rect x="194.90" y="600.05" width="62.60" height="3.4" fill="#fff" stroke="#383838" stroke-width="1.0"/>
<rect x="257.50" y="599.95" width="8.51" height="3.60" fill="#8eabe0" />
<rect x="251.60" y="605.76" width="5.90" height="3.4" fill="#fff" stroke="#383838" stroke-width="1.0"/>
<rect x="257.50" y="605.66" width="8.51" height="3.60" fill="#8eabe0" />
<rect x="232.70" y="611.47" width="24.80" height="3.4" fill="#fff" stroke="#383838" stroke-width="1.0"/>
<rect x="257.50" y="611.37" width="8.51" height="3.60" fill="#8eabe0" />
<line x1="257.50" y1="455.50" x2="257.50" y2="621.80" stroke="#111" stroke-width="1.2" />
<line x1="5.40" y1="618.60" x2="508.60" y2="618.60" stroke="#333" stroke-width="1.1" />
<line x1="5.50" y1="618.60" x2="5.50" y2="621.80" stroke="#333" stroke-width="1" />
<text x="5.50" y="633.30" font-size="10.0" text-anchor="middle" font-weight="normal" fill="#222" stroke="#222" >40</text>
<line x1="37.00" y1="618.60" x2="37.00" y2="621.80" stroke="#333" stroke-width="1" />
<text x="37.00" y="633.30" font-size="10.0" text-anchor="middle" font-weight="normal" fill="#222" stroke="#222" >35</text>
<line x1="68.50" y1="618.60" x2="68.50" y2="621.80" stroke="#333" stroke-width="1" />
<text x="68.50" y="633.30" font-size="10.0" text-anchor="middle" font-weight="normal" fill="#222" stroke="#222" >30</text>
<line x1="100.00" y1="618.60" x2="100.00" y2="621.80" stroke="#333" stroke-width="1" />
<text x="100.00" y="633.30" font-size="10.0" text-anchor="middle" font-weight="normal" fill="#222" stroke="#222" >25</text>
<line x1="131.50" y1="618.60" x2="131.50" y2="621.80" stroke="#333" stroke-width="1" />
<text x="131.50" y="633.30" font-size="10.0" text-anchor="middle" font-weight="normal" fill="#222" stroke="#222" >20</text>
<line x1="163.00" y1="618.60" x2="163.00" y2="621.80" stroke="#333" stroke-width="1" />
<text x="163.00" y="633.30" font-size="10.0" text-anchor="middle" font-weight="normal" fill="#222" stroke="#222" >15</text>
<line x1="194.50" y1="618.60" x2="194.50" y2="621.80" stroke="#333" stroke-width="1" />
<text x="194.50" y="633.30" font-size="10.0" text-anchor="middle" font-weight="normal" fill="#222" stroke="#222" >10</text>
<line x1="226.00" y1="618.60" x2="226.00" y2="621.80" stroke="#333" stroke-width="1" />
<text x="226.00" y="633.30" font-size="10.0" text-anchor="middle" font-weight="normal" fill="#222" stroke="#222" >5</text>
<line x1="257.50" y1="618.60" x2="257.50" y2="621.80" stroke="#333" stroke-width="1" />
<text x="257.50" y="633.30" font-size="10.0" text-anchor="middle" font-weight="bold" fill="#222" stroke="#222" >0</text>
<line x1="289.00" y1="618.60" x2="289.00" y2="621.80" stroke="#333" stroke-width="1" />
<text x="289.00" y="633.30" font-size="10.0" text-anchor="middle" font-weight="normal" fill="#222" stroke="#222" >5</text>
<line x1="320.50" y1="618.60" x2="320.50" y2="621.80" stroke="#333" stroke-width="1" />
<text x="320.50" y="633.30" font-size="10.0" text-anchor="middle" font-weight="normal" fill="#222" stroke="#222" >10</text>
<line x1="352.00" y1="618.60" x2="352.00" y2="621.80" stroke="#333" stroke-width="1" />
<text x="352.00" y="633.30" font-size="10.0" text-anchor="middle" font-weight="normal" fill="#222" stroke="#222" >15</text>
<line x1="383.50" y1="618.60" x2="383.50" y2="621.80" stroke="#333" stroke-width="1" />
<text x="383.50" y="633.30" font-size="10.0" text-anchor="middle" font-weight="normal" fill="#222" stroke="#222" >20</text>
<line x1="415.00" y1="618.60" x2="415.00" y2="621.80" stroke="#333" stroke-width="1" />
<text x="415.00" y="633.30" font-size="10.0" text-anchor="middle" font-weight="normal" fill="#222" stroke="#222" >25</text>
<line x1="446.50" y1="618.60" x2="446.50" y2="621.80" stroke="#333" stroke-width="1" />
<text x="446.50" y="633.30" font-size="10.0" text-anchor="middle" font-weight="normal" fill="#222" stroke="#222" >30</text>
<line x1="478.00" y1="618.60" x2="478.00" y2="621.80" stroke="#333" stroke-width="1" />
<text x="478.00" y="633.30" font-size="10.0" text-anchor="middle" font-weight="normal" fill="#222" stroke="#222" >35</text>
<line x1="509.50" y1="618.60" x2="509.50" y2="621.80" stroke="#333" stroke-width="1" />
<text x="509.50" y="633.30" font-size="10.0" text-anchor="middle" font-weight="normal" fill="#222" stroke="#222" >40</text>
<text x="70.00" y="646.30" font-size="9.6" text-anchor="start" font-weight="normal" fill="#222" stroke="#222" >Time to progression (months)</text>
<text x="373.70" y="646.30" font-size="9.6" text-anchor="middle" font-weight="normal" fill="#222" stroke="#222" >PFS (months)</text>
<text x="385.70" y="532.00" font-size="9.7" text-anchor="start" font-weight="normal" fill="#222" stroke="#222" >BOR</text>
<text x="385.70" y="542.90" font-size="9.6" text-anchor="start" font-weight="normal" fill="#222" stroke="#222" >(investigator assessed)</text>
<rect x="386.60" y="546.60" width="8.40" height="9.80" fill="#139447" />
<text x="399.50" y="555.10" font-size="10.2" text-anchor="start" font-weight="normal" fill="#222" stroke="#222" >CR</text>
<rect x="386.60" y="558.75" width="8.40" height="9.80" fill="#a2d38b" />
<text x="399.50" y="567.25" font-size="10.2" text-anchor="start" font-weight="normal" fill="#222" stroke="#222" >PR</text>
<rect x="386.60" y="570.90" width="8.40" height="9.80" fill="#474747" />
<text x="399.50" y="579.40" font-size="10.2" text-anchor="start" font-weight="normal" fill="#222" stroke="#222" >SD</text>
<rect x="386.60" y="583.05" width="8.40" height="9.80" fill="#8eabe0" />
<text x="399.50" y="591.55" font-size="10.2" text-anchor="start" font-weight="normal" fill="#222" stroke="#222" >PD</text>
<rect x="386.60" y="595.20" width="8.40" height="9.80" fill="#c9c9cc" />
<text x="399.50" y="603.70" font-size="10.2" text-anchor="start" font-weight="normal" fill="#222" stroke="#222" >NE</text>
</g>
</svg>
</body></html>
